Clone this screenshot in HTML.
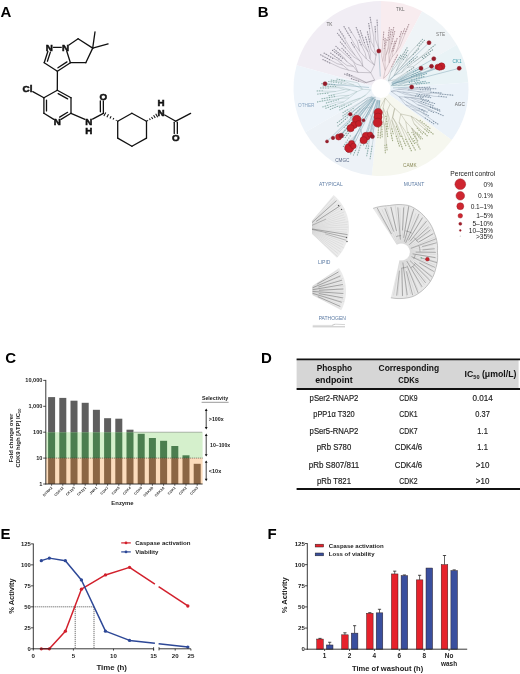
<!DOCTYPE html>
<html><head><meta charset="utf-8"><style>
html,body{margin:0;padding:0;background:#fff;}
body{width:520px;height:674px;overflow:hidden;}
svg{display:block;font-family:"Liberation Sans",Arial,sans-serif;}
</style></head><body>
<svg width="520" height="674" viewBox="0 0 520 674">
<rect width="520" height="674" fill="#fff"/>
<text x="0.4" y="17" font-size="15" text-anchor="start" font-weight="bold" fill="#000" >A</text>
<text x="257.7" y="16.7" font-size="15" text-anchor="start" font-weight="bold" fill="#000" >B</text>
<text x="5.2" y="363" font-size="15" text-anchor="start" font-weight="bold" fill="#000" >C</text>
<text x="261" y="363.3" font-size="15" text-anchor="start" font-weight="bold" fill="#000" >D</text>
<text x="0.4" y="539.4" font-size="15" text-anchor="start" font-weight="bold" fill="#000" >E</text>
<text x="267.4" y="538.6" font-size="15" text-anchor="start" font-weight="bold" fill="#000" >F</text>
<line x1="53.4" y1="47.3" x2="61.3" y2="47.3" stroke="#111" stroke-width="1.3" stroke-linecap="round"/>
<line x1="66.77" y1="51.3" x2="70.4" y2="62.7" stroke="#111" stroke-width="1.3" stroke-linecap="round"/>
<line x1="70.4" y1="62.7" x2="57.4" y2="71.3" stroke="#111" stroke-width="1.3" stroke-linecap="round"/>
<line x1="57.4" y1="71.3" x2="44.2" y2="62.7" stroke="#111" stroke-width="1.3" stroke-linecap="round"/>
<line x1="44.2" y1="62.7" x2="47.9" y2="51.29" stroke="#111" stroke-width="1.3" stroke-linecap="round"/>
<line x1="47.41" y1="61.22" x2="50.38" y2="52.1" stroke="#111" stroke-width="1.3" stroke-linecap="round"/>
<line x1="66.96" y1="61.86" x2="57.97" y2="67.81" stroke="#111" stroke-width="1.3" stroke-linecap="round"/>
<line x1="68.98" y1="44.95" x2="78.1" y2="38.8" stroke="#111" stroke-width="1.3" stroke-linecap="round"/>
<line x1="78.1" y1="38.8" x2="92.7" y2="48.1" stroke="#111" stroke-width="1.3" stroke-linecap="round"/>
<line x1="92.7" y1="48.1" x2="85.8" y2="62.7" stroke="#111" stroke-width="1.3" stroke-linecap="round"/>
<line x1="85.8" y1="62.7" x2="70.4" y2="62.7" stroke="#111" stroke-width="1.3" stroke-linecap="round"/>
<line x1="92.7" y1="48.1" x2="95" y2="31.9" stroke="#111" stroke-width="1.3" stroke-linecap="round"/>
<line x1="92.7" y1="48.1" x2="108.1" y2="43.8" stroke="#111" stroke-width="1.3" stroke-linecap="round"/>
<line x1="57.4" y1="71.3" x2="57.3" y2="90.2" stroke="#111" stroke-width="1.3" stroke-linecap="round"/>
<line x1="57.3" y1="90.2" x2="43.9" y2="97.7" stroke="#111" stroke-width="1.3" stroke-linecap="round"/>
<line x1="43.9" y1="97.7" x2="43.9" y2="113.3" stroke="#111" stroke-width="1.3" stroke-linecap="round"/>
<line x1="43.9" y1="113.3" x2="53.81" y2="119.32" stroke="#111" stroke-width="1.3" stroke-linecap="round"/>
<line x1="61" y1="119.33" x2="71" y2="113.3" stroke="#111" stroke-width="1.3" stroke-linecap="round"/>
<line x1="71" y1="113.3" x2="71" y2="97.7" stroke="#111" stroke-width="1.3" stroke-linecap="round"/>
<line x1="71" y1="97.7" x2="57.3" y2="90.2" stroke="#111" stroke-width="1.3" stroke-linecap="round"/>
<line x1="58.16" y1="93.63" x2="67.65" y2="98.83" stroke="#111" stroke-width="1.3" stroke-linecap="round"/>
<line x1="46.5" y1="100.1" x2="46.5" y2="110.9" stroke="#111" stroke-width="1.3" stroke-linecap="round"/>
<line x1="59.65" y1="117.1" x2="67.6" y2="112.31" stroke="#111" stroke-width="1.3" stroke-linecap="round"/>
<line x1="43.9" y1="97.7" x2="32.77" y2="91.66" stroke="#111" stroke-width="1.3" stroke-linecap="round"/>
<line x1="71" y1="113.3" x2="84.95" y2="119.33" stroke="#111" stroke-width="1.3" stroke-linecap="round"/>
<line x1="92.53" y1="119.06" x2="103.4" y2="113.4" stroke="#111" stroke-width="1.3" stroke-linecap="round"/>
<line x1="103.4" y1="113.4" x2="103.33" y2="100.8" stroke="#111" stroke-width="1.3" stroke-linecap="round"/>
<line x1="100.39" y1="111.82" x2="100.33" y2="100.82" stroke="#111" stroke-width="1.3" stroke-linecap="round"/>
<line x1="116.04" y1="120.85" x2="116.5" y2="119.99" stroke="#111" stroke-width="1.05" />
<line x1="112.99" y1="119.62" x2="113.83" y2="118.1" stroke="#111" stroke-width="1.05" />
<line x1="109.95" y1="118.4" x2="111.15" y2="116.2" stroke="#111" stroke-width="1.05" />
<line x1="106.91" y1="117.17" x2="108.47" y2="114.31" stroke="#111" stroke-width="1.05" />
<line x1="103.87" y1="115.94" x2="105.79" y2="112.42" stroke="#111" stroke-width="1.05" />
<line x1="117.7" y1="121.2" x2="131.9" y2="113.2" stroke="#111" stroke-width="1.3" stroke-linecap="round"/>
<line x1="131.9" y1="113.2" x2="146.5" y2="121.2" stroke="#111" stroke-width="1.3" stroke-linecap="round"/>
<line x1="146.5" y1="121.2" x2="146.5" y2="138.1" stroke="#111" stroke-width="1.3" stroke-linecap="round"/>
<line x1="146.5" y1="138.1" x2="131.9" y2="146.3" stroke="#111" stroke-width="1.3" stroke-linecap="round"/>
<line x1="131.9" y1="146.3" x2="117.7" y2="138.1" stroke="#111" stroke-width="1.3" stroke-linecap="round"/>
<line x1="117.7" y1="138.1" x2="117.7" y2="121.2" stroke="#111" stroke-width="1.3" stroke-linecap="round"/>
<line x1="147.39" y1="120.13" x2="147.87" y2="120.98" stroke="#111" stroke-width="1.05" />
<line x1="149.46" y1="118.51" x2="150.32" y2="120.03" stroke="#111" stroke-width="1.05" />
<line x1="151.54" y1="116.9" x2="152.77" y2="119.07" stroke="#111" stroke-width="1.05" />
<line x1="153.61" y1="115.28" x2="155.23" y2="118.11" stroke="#111" stroke-width="1.05" />
<line x1="155.69" y1="113.66" x2="157.68" y2="117.16" stroke="#111" stroke-width="1.05" />
<line x1="164.76" y1="114.97" x2="175.8" y2="121.2" stroke="#111" stroke-width="1.3" stroke-linecap="round"/>
<line x1="175.8" y1="121.2" x2="190.6" y2="113.4" stroke="#111" stroke-width="1.3" stroke-linecap="round"/>
<line x1="174.25" y1="122.2" x2="174.25" y2="133.5" stroke="#111" stroke-width="1.3" stroke-linecap="round"/>
<line x1="177.35" y1="122.2" x2="177.35" y2="133.5" stroke="#111" stroke-width="1.3" stroke-linecap="round"/>
<text x="49.2" y="50.85" font-size="9.8" text-anchor="middle" font-weight="bold" fill="#111" stroke="#111" stroke-width="0.55">N</text>
<text x="65.5" y="50.85" font-size="9.8" text-anchor="middle" font-weight="bold" fill="#111" stroke="#111" stroke-width="0.55">N</text>
<text x="57.4" y="125.05" font-size="9.8" text-anchor="middle" font-weight="bold" fill="#111" stroke="#111" stroke-width="0.55">N</text>
<text x="88.8" y="124.55" font-size="9.8" text-anchor="middle" font-weight="bold" fill="#111" stroke="#111" stroke-width="0.55">N</text>
<text x="161.1" y="116.45" font-size="9.8" text-anchor="middle" font-weight="bold" fill="#111" stroke="#111" stroke-width="0.55">N</text>
<text x="88.8" y="133.5" font-size="9.8" text-anchor="middle" font-weight="bold" fill="#111" stroke="#111" stroke-width="0.55">H</text>
<text x="161.1" y="106.3" font-size="9.8" text-anchor="middle" font-weight="bold" fill="#111" stroke="#111" stroke-width="0.55">H</text>
<text x="103.3" y="99.95" font-size="9.8" text-anchor="middle" font-weight="bold" fill="#111" stroke="#111" stroke-width="0.55">O</text>
<text x="175.8" y="141.45" font-size="9.8" text-anchor="middle" font-weight="bold" fill="#111" stroke="#111" stroke-width="0.55">O</text>
<text x="27.5" y="92.35" font-size="9.8" text-anchor="middle" font-weight="bold" fill="#111" stroke="#111" stroke-width="0.55">Cl</text>
<path d="M381,88.5 L296.64,65.26 A87.5,87.5 0 0 1 381,1 Z" fill="#f1edf4"/>
<path d="M381,88.5 L381,1 A87.5,87.5 0 0 1 422.08,11.24 Z" fill="#f8ecef"/>
<path d="M381,88.5 L422.08,11.24 A87.5,87.5 0 0 1 456.78,44.75 Z" fill="#eff4f7"/>
<path d="M381,88.5 L456.78,44.75 A87.5,87.5 0 0 1 468.29,82.4 Z" fill="#e9f3f6"/>
<path d="M381,88.5 L468.29,82.4 A87.5,87.5 0 0 1 451.79,139.93 Z" fill="#ebf2f9"/>
<path d="M381,88.5 L451.79,139.93 A87.5,87.5 0 0 1 371.85,175.52 Z" fill="#f6f7ef"/>
<path d="M381,88.5 L371.85,175.52 A87.5,87.5 0 0 1 305.22,132.25 Z" fill="#edf2f7"/>
<path d="M381,88.5 L305.22,132.25 A87.5,87.5 0 0 1 296.64,65.26 Z" fill="#eef4fa"/>
<line x1="374.64" y1="80.15" x2="364.3" y2="82.89" stroke="#8a8590" stroke-width="0.4" />
<line x1="364.3" y1="82.89" x2="351.4" y2="78.7" stroke="#8a8590" stroke-width="0.38" />
<line x1="374.64" y1="80.15" x2="366.53" y2="82.74" stroke="#8a8590" stroke-width="0.4" />
<line x1="366.53" y1="82.74" x2="361.47" y2="80.52" stroke="#8a8590" stroke-width="0.4" />
<line x1="361.47" y1="80.52" x2="344.67" y2="74.11" stroke="#8a8590" stroke-width="0.38" />
<line x1="366.53" y1="82.74" x2="358.82" y2="78.71" stroke="#8a8590" stroke-width="0.4" />
<line x1="358.82" y1="78.71" x2="347.16" y2="73.71" stroke="#8a8590" stroke-width="0.38" />
<line x1="374.64" y1="80.15" x2="370.79" y2="72.72" stroke="#8a8590" stroke-width="0.4" />
<line x1="370.79" y1="72.72" x2="357.99" y2="72.39" stroke="#8a8590" stroke-width="0.4" />
<line x1="357.99" y1="72.39" x2="348.66" y2="70.19" stroke="#8a8590" stroke-width="0.4" />
<line x1="348.66" y1="70.19" x2="340.87" y2="67.88" stroke="#8a8590" stroke-width="0.4" />
<line x1="340.87" y1="67.88" x2="322.98" y2="59.6" stroke="#8a8590" stroke-width="0.38" />
<line x1="348.66" y1="70.19" x2="342.8" y2="65.03" stroke="#8a8590" stroke-width="0.4" />
<line x1="342.8" y1="65.03" x2="337.29" y2="63.73" stroke="#8a8590" stroke-width="0.4" />
<line x1="337.29" y1="63.73" x2="320.72" y2="54.81" stroke="#8a8590" stroke-width="0.38" />
<line x1="342.8" y1="65.03" x2="337.83" y2="60.45" stroke="#8a8590" stroke-width="0.4" />
<line x1="337.83" y1="60.45" x2="324.16" y2="53.13" stroke="#8a8590" stroke-width="0.38" />
<line x1="357.99" y1="72.39" x2="353.42" y2="66.37" stroke="#8a8590" stroke-width="0.4" />
<line x1="353.42" y1="66.37" x2="347.12" y2="65.58" stroke="#8a8590" stroke-width="0.4" />
<line x1="347.12" y1="65.58" x2="330.8" y2="53.17" stroke="#8a8590" stroke-width="0.38" />
<line x1="353.42" y1="66.37" x2="347.11" y2="61.88" stroke="#8a8590" stroke-width="0.4" />
<line x1="347.11" y1="61.88" x2="342.92" y2="57.78" stroke="#8a8590" stroke-width="0.4" />
<line x1="342.92" y1="57.78" x2="332.54" y2="50.47" stroke="#8a8590" stroke-width="0.38" />
<line x1="347.11" y1="61.88" x2="343.53" y2="57.07" stroke="#8a8590" stroke-width="0.4" />
<line x1="343.53" y1="57.07" x2="334.21" y2="49.27" stroke="#8a8590" stroke-width="0.38" />
<line x1="357.99" y1="72.39" x2="353.77" y2="62.23" stroke="#8a8590" stroke-width="0.4" />
<line x1="353.77" y1="62.23" x2="335.96" y2="46.34" stroke="#8a8590" stroke-width="0.38" />
<line x1="370.79" y1="72.72" x2="362.91" y2="66.27" stroke="#8a8590" stroke-width="0.4" />
<line x1="362.91" y1="66.27" x2="356.02" y2="64.01" stroke="#8a8590" stroke-width="0.4" />
<line x1="356.02" y1="64.01" x2="341.98" y2="48.27" stroke="#8a8590" stroke-width="0.38" />
<line x1="362.91" y1="66.27" x2="359.93" y2="60.87" stroke="#8a8590" stroke-width="0.4" />
<line x1="359.93" y1="60.87" x2="352.65" y2="56.19" stroke="#8a8590" stroke-width="0.4" />
<line x1="352.65" y1="56.19" x2="340.37" y2="42.09" stroke="#8a8590" stroke-width="0.38" />
<line x1="359.93" y1="60.87" x2="355.21" y2="55.54" stroke="#8a8590" stroke-width="0.4" />
<line x1="355.21" y1="55.54" x2="350.54" y2="50.68" stroke="#8a8590" stroke-width="0.4" />
<line x1="350.54" y1="50.68" x2="337.5" y2="33.24" stroke="#8a8590" stroke-width="0.38" />
<line x1="355.21" y1="55.54" x2="349.76" y2="47.36" stroke="#8a8590" stroke-width="0.4" />
<line x1="349.76" y1="47.36" x2="339.24" y2="29.84" stroke="#8a8590" stroke-width="0.38" />
<line x1="362.91" y1="66.27" x2="361.65" y2="59.15" stroke="#8a8590" stroke-width="0.4" />
<line x1="361.65" y1="59.15" x2="351.54" y2="42.68" stroke="#8a8590" stroke-width="0.38" />
<line x1="370.79" y1="72.72" x2="374.43" y2="65.07" stroke="#8a8590" stroke-width="0.4" />
<line x1="374.43" y1="65.07" x2="366.41" y2="58.93" stroke="#8a8590" stroke-width="0.4" />
<line x1="366.41" y1="58.93" x2="359.77" y2="51.42" stroke="#8a8590" stroke-width="0.4" />
<line x1="359.77" y1="51.42" x2="354.72" y2="44.59" stroke="#8a8590" stroke-width="0.4" />
<line x1="354.72" y1="44.59" x2="344.05" y2="26.71" stroke="#8a8590" stroke-width="0.38" />
<line x1="359.77" y1="51.42" x2="357.28" y2="41.47" stroke="#8a8590" stroke-width="0.4" />
<line x1="357.28" y1="41.47" x2="348.8" y2="27.78" stroke="#8a8590" stroke-width="0.38" />
<line x1="366.41" y1="58.93" x2="365.23" y2="53.17" stroke="#8a8590" stroke-width="0.4" />
<line x1="365.23" y1="53.17" x2="359" y2="40.14" stroke="#8a8590" stroke-width="0.38" />
<line x1="374.43" y1="65.07" x2="370" y2="58.9" stroke="#8a8590" stroke-width="0.4" />
<line x1="370" y1="58.9" x2="368.14" y2="52.02" stroke="#8a8590" stroke-width="0.4" />
<line x1="368.14" y1="52.02" x2="363.18" y2="44.87" stroke="#8a8590" stroke-width="0.4" />
<line x1="363.18" y1="44.87" x2="356.24" y2="27.54" stroke="#8a8590" stroke-width="0.38" />
<line x1="368.14" y1="52.02" x2="364.28" y2="42.82" stroke="#8a8590" stroke-width="0.4" />
<line x1="364.28" y1="42.82" x2="360.28" y2="30.71" stroke="#8a8590" stroke-width="0.38" />
<line x1="370" y1="58.9" x2="370.27" y2="53.44" stroke="#8a8590" stroke-width="0.4" />
<line x1="370.27" y1="53.44" x2="365.6" y2="37.15" stroke="#8a8590" stroke-width="0.38" />
<line x1="374.43" y1="65.07" x2="375.98" y2="55.52" stroke="#8a8590" stroke-width="0.4" />
<line x1="375.98" y1="55.52" x2="371.06" y2="49.29" stroke="#8a8590" stroke-width="0.4" />
<line x1="371.06" y1="49.29" x2="367.4" y2="31.92" stroke="#8a8590" stroke-width="0.38" />
<line x1="375.98" y1="55.52" x2="373.99" y2="47.28" stroke="#8a8590" stroke-width="0.4" />
<line x1="373.99" y1="47.28" x2="371" y2="41.42" stroke="#8a8590" stroke-width="0.4" />
<line x1="371" y1="41.42" x2="368.7" y2="23.49" stroke="#8a8590" stroke-width="0.38" />
<line x1="373.99" y1="47.28" x2="373.78" y2="37.25" stroke="#8a8590" stroke-width="0.4" />
<line x1="373.78" y1="37.25" x2="370.17" y2="17.32" stroke="#8a8590" stroke-width="0.38" />
<line x1="375.98" y1="55.52" x2="378.8" y2="48.91" stroke="#8a8590" stroke-width="0.4" />
<line x1="378.8" y1="48.91" x2="375.49" y2="39.24" stroke="#8a8590" stroke-width="0.4" />
<line x1="375.49" y1="39.24" x2="375.08" y2="26.71" stroke="#8a8590" stroke-width="0.38" />
<line x1="378.8" y1="48.91" x2="378.12" y2="42.13" stroke="#8a8590" stroke-width="0.4" />
<line x1="378.12" y1="42.13" x2="377.05" y2="20.1" stroke="#8a8590" stroke-width="0.38" />
<g fill="#8a8794"><circle cx="351.4" cy="78.7" r="0.6"/><circle cx="353.77" cy="79.49" r="0.6"/><circle cx="356.14" cy="80.27" r="0.6"/><circle cx="358.52" cy="81.06" r="0.6"/><circle cx="344.67" cy="74.11" r="0.6"/><circle cx="346.99" cy="75.03" r="0.6"/><circle cx="349.32" cy="75.95" r="0.6"/><circle cx="347.16" cy="73.71" r="0.6"/><circle cx="349.45" cy="74.71" r="0.6"/><circle cx="351.74" cy="75.71" r="0.6"/><circle cx="322.98" cy="59.6" r="0.6"/><circle cx="325.21" cy="60.72" r="0.6"/><circle cx="327.45" cy="61.83" r="0.6"/><circle cx="329.69" cy="62.94" r="0.6"/><circle cx="320.72" cy="54.81" r="0.6"/><circle cx="322.9" cy="56.03" r="0.6"/><circle cx="325.08" cy="57.25" r="0.6"/><circle cx="327.27" cy="58.47" r="0.6"/><circle cx="329.45" cy="59.68" r="0.6"/><circle cx="324.16" cy="53.13" r="0.6"/><circle cx="326.28" cy="54.45" r="0.6"/><circle cx="328.4" cy="55.78" r="0.6"/><circle cx="330.53" cy="57.1" r="0.6"/><circle cx="332.65" cy="58.42" r="0.6"/><circle cx="330.8" cy="53.17" r="0.6"/><circle cx="332.85" cy="54.61" r="0.6"/><circle cx="334.89" cy="56.05" r="0.6"/><circle cx="336.94" cy="57.48" r="0.6"/><circle cx="338.98" cy="58.92" r="0.6"/><circle cx="341.02" cy="60.36" r="0.6"/><circle cx="332.54" cy="50.47" r="0.6"/><circle cx="334.51" cy="52.01" r="0.6"/><circle cx="336.48" cy="53.56" r="0.6"/><circle cx="338.44" cy="55.1" r="0.6"/><circle cx="340.41" cy="56.64" r="0.6"/><circle cx="342.38" cy="58.19" r="0.6"/><circle cx="334.21" cy="49.27" r="0.6"/><circle cx="336.13" cy="50.88" r="0.6"/><circle cx="338.04" cy="52.48" r="0.6"/><circle cx="339.96" cy="54.09" r="0.6"/><circle cx="335.96" cy="46.34" r="0.6"/><circle cx="337.79" cy="48.05" r="0.6"/><circle cx="339.61" cy="49.76" r="0.6"/><circle cx="341.98" cy="48.27" r="0.6"/><circle cx="343.72" cy="50.07" r="0.6"/><circle cx="345.46" cy="51.86" r="0.6"/><circle cx="347.2" cy="53.66" r="0.6"/><circle cx="348.94" cy="55.45" r="0.6"/><circle cx="350.68" cy="57.25" r="0.6"/><circle cx="340.37" cy="42.09" r="0.6"/><circle cx="342.01" cy="43.97" r="0.6"/><circle cx="343.66" cy="45.85" r="0.6"/><circle cx="345.31" cy="47.73" r="0.6"/><circle cx="337.5" cy="33.24" r="0.6"/><circle cx="339.05" cy="35.2" r="0.6"/><circle cx="340.59" cy="37.17" r="0.6"/><circle cx="342.14" cy="39.13" r="0.6"/><circle cx="343.69" cy="41.09" r="0.6"/><circle cx="345.23" cy="43.06" r="0.6"/><circle cx="339.24" cy="29.84" r="0.6"/><circle cx="340.69" cy="31.88" r="0.6"/><circle cx="342.14" cy="33.92" r="0.6"/><circle cx="343.59" cy="35.95" r="0.6"/><circle cx="345.04" cy="37.99" r="0.6"/><circle cx="351.54" cy="42.68" r="0.6"/><circle cx="352.89" cy="44.78" r="0.6"/><circle cx="354.25" cy="46.88" r="0.6"/><circle cx="344.05" cy="26.71" r="0.6"/><circle cx="345.33" cy="28.85" r="0.6"/><circle cx="346.61" cy="31" r="0.6"/><circle cx="347.9" cy="33.14" r="0.6"/><circle cx="349.18" cy="35.29" r="0.6"/><circle cx="350.46" cy="37.43" r="0.6"/><circle cx="348.8" cy="27.78" r="0.6"/><circle cx="349.97" cy="29.98" r="0.6"/><circle cx="351.14" cy="32.19" r="0.6"/><circle cx="359" cy="40.14" r="0.6"/><circle cx="360.03" cy="42.42" r="0.6"/><circle cx="361.07" cy="44.69" r="0.6"/><circle cx="356.24" cy="27.54" r="0.6"/><circle cx="357.18" cy="29.86" r="0.6"/><circle cx="358.12" cy="32.18" r="0.6"/><circle cx="359.06" cy="34.49" r="0.6"/><circle cx="360" cy="36.81" r="0.6"/><circle cx="360.28" cy="30.71" r="0.6"/><circle cx="361.12" cy="33.06" r="0.6"/><circle cx="361.96" cy="35.42" r="0.6"/><circle cx="362.81" cy="37.77" r="0.6"/><circle cx="363.65" cy="40.12" r="0.6"/><circle cx="364.5" cy="42.48" r="0.6"/><circle cx="365.6" cy="37.15" r="0.6"/><circle cx="366.31" cy="39.55" r="0.6"/><circle cx="367.03" cy="41.94" r="0.6"/><circle cx="367.75" cy="44.33" r="0.6"/><circle cx="368.47" cy="46.73" r="0.6"/><circle cx="367.4" cy="31.92" r="0.6"/><circle cx="367.99" cy="34.36" r="0.6"/><circle cx="368.57" cy="36.79" r="0.6"/><circle cx="369.16" cy="39.22" r="0.6"/><circle cx="369.74" cy="41.65" r="0.6"/><circle cx="368.7" cy="23.49" r="0.6"/><circle cx="369.16" cy="25.95" r="0.6"/><circle cx="369.63" cy="28.41" r="0.6"/><circle cx="370.17" cy="17.32" r="0.6"/><circle cx="370.55" cy="19.79" r="0.6"/><circle cx="370.92" cy="22.26" r="0.6"/><circle cx="375.08" cy="26.71" r="0.6"/><circle cx="375.32" cy="29.19" r="0.6"/><circle cx="375.56" cy="31.68" r="0.6"/><circle cx="377.05" cy="20.1" r="0.6"/><circle cx="377.2" cy="22.6" r="0.6"/><circle cx="377.34" cy="25.09" r="0.6"/></g>
<line x1="383.54" y1="78.31" x2="385.19" y2="70.43" stroke="#a89298" stroke-width="0.4" />
<line x1="385.19" y1="70.43" x2="382.79" y2="61.52" stroke="#a89298" stroke-width="0.4" />
<line x1="382.79" y1="61.52" x2="381.62" y2="55.87" stroke="#a89298" stroke-width="0.4" />
<line x1="381.62" y1="55.87" x2="383.72" y2="32.1" stroke="#a89298" stroke-width="0.38" />
<line x1="382.79" y1="61.52" x2="383.69" y2="55.88" stroke="#a89298" stroke-width="0.4" />
<line x1="383.69" y1="55.88" x2="385.09" y2="38.31" stroke="#a89298" stroke-width="0.38" />
<line x1="385.19" y1="70.43" x2="385.02" y2="61.39" stroke="#a89298" stroke-width="0.4" />
<line x1="385.02" y1="61.39" x2="385.07" y2="53.37" stroke="#a89298" stroke-width="0.4" />
<line x1="385.07" y1="53.37" x2="386.2" y2="39.8" stroke="#a89298" stroke-width="0.38" />
<line x1="385.02" y1="61.39" x2="385.76" y2="55.36" stroke="#a89298" stroke-width="0.4" />
<line x1="385.76" y1="55.36" x2="388.13" y2="46.84" stroke="#a89298" stroke-width="0.4" />
<line x1="388.13" y1="46.84" x2="389.42" y2="27.77" stroke="#a89298" stroke-width="0.38" />
<line x1="385.76" y1="55.36" x2="388.6" y2="48.07" stroke="#a89298" stroke-width="0.4" />
<line x1="388.6" y1="48.07" x2="391.21" y2="29.51" stroke="#a89298" stroke-width="0.38" />
<line x1="385.19" y1="70.43" x2="389.17" y2="62.92" stroke="#a89298" stroke-width="0.4" />
<line x1="389.17" y1="62.92" x2="388.84" y2="53.65" stroke="#a89298" stroke-width="0.4" />
<line x1="388.84" y1="53.65" x2="389.87" y2="46.96" stroke="#a89298" stroke-width="0.4" />
<line x1="389.87" y1="46.96" x2="393.66" y2="27.52" stroke="#a89298" stroke-width="0.38" />
<line x1="388.84" y1="53.65" x2="390.71" y2="46.86" stroke="#a89298" stroke-width="0.4" />
<line x1="390.71" y1="46.86" x2="394.64" y2="31.57" stroke="#a89298" stroke-width="0.38" />
<line x1="389.17" y1="62.92" x2="389.91" y2="57.09" stroke="#a89298" stroke-width="0.4" />
<line x1="389.91" y1="57.09" x2="394.88" y2="41.45" stroke="#a89298" stroke-width="0.38" />
<line x1="389.17" y1="62.92" x2="392.04" y2="57.05" stroke="#a89298" stroke-width="0.4" />
<line x1="392.04" y1="57.05" x2="393.11" y2="50.2" stroke="#a89298" stroke-width="0.4" />
<line x1="393.11" y1="50.2" x2="397.05" y2="38.65" stroke="#a89298" stroke-width="0.38" />
<line x1="392.04" y1="57.05" x2="396.1" y2="52.28" stroke="#a89298" stroke-width="0.4" />
<line x1="396.1" y1="52.28" x2="398.95" y2="44.47" stroke="#a89298" stroke-width="0.4" />
<line x1="398.95" y1="44.47" x2="401.31" y2="31.72" stroke="#a89298" stroke-width="0.38" />
<line x1="398.95" y1="44.47" x2="404.57" y2="28.85" stroke="#a89298" stroke-width="0.38" />
<line x1="396.1" y1="52.28" x2="400.09" y2="46.27" stroke="#a89298" stroke-width="0.4" />
<line x1="400.09" y1="46.27" x2="408.71" y2="24.58" stroke="#a89298" stroke-width="0.38" />
<line x1="383.54" y1="78.31" x2="388.16" y2="73.95" stroke="#a89298" stroke-width="0.4" />
<line x1="388.16" y1="73.95" x2="397.39" y2="55.07" stroke="#a89298" stroke-width="0.38" />
<g fill="#a88c94"><circle cx="383.72" cy="32.1" r="0.6"/><circle cx="383.6" cy="34.6" r="0.6"/><circle cx="383.47" cy="37.09" r="0.6"/><circle cx="383.35" cy="39.59" r="0.6"/><circle cx="385.09" cy="38.31" r="0.6"/><circle cx="384.89" cy="40.8" r="0.6"/><circle cx="384.69" cy="43.29" r="0.6"/><circle cx="384.48" cy="45.78" r="0.6"/><circle cx="384.28" cy="48.28" r="0.6"/><circle cx="386.2" cy="39.8" r="0.6"/><circle cx="385.94" cy="42.29" r="0.6"/><circle cx="385.67" cy="44.78" r="0.6"/><circle cx="389.42" cy="27.77" r="0.6"/><circle cx="389.08" cy="30.25" r="0.6"/><circle cx="388.74" cy="32.72" r="0.6"/><circle cx="388.39" cy="35.2" r="0.6"/><circle cx="388.05" cy="37.68" r="0.6"/><circle cx="387.71" cy="40.15" r="0.6"/><circle cx="391.21" cy="29.51" r="0.6"/><circle cx="390.78" cy="31.97" r="0.6"/><circle cx="390.36" cy="34.44" r="0.6"/><circle cx="389.93" cy="36.9" r="0.6"/><circle cx="389.5" cy="39.36" r="0.6"/><circle cx="393.66" cy="27.52" r="0.6"/><circle cx="393.15" cy="29.96" r="0.6"/><circle cx="392.65" cy="32.41" r="0.6"/><circle cx="392.14" cy="34.86" r="0.6"/><circle cx="394.64" cy="31.57" r="0.6"/><circle cx="394.06" cy="34" r="0.6"/><circle cx="393.47" cy="36.43" r="0.6"/><circle cx="392.89" cy="38.86" r="0.6"/><circle cx="392.31" cy="41.29" r="0.6"/><circle cx="391.73" cy="43.72" r="0.6"/><circle cx="394.88" cy="41.45" r="0.6"/><circle cx="394.18" cy="43.85" r="0.6"/><circle cx="393.47" cy="46.25" r="0.6"/><circle cx="392.76" cy="48.65" r="0.6"/><circle cx="392.05" cy="51.04" r="0.6"/><circle cx="397.05" cy="38.65" r="0.6"/><circle cx="396.28" cy="41.03" r="0.6"/><circle cx="395.51" cy="43.41" r="0.6"/><circle cx="394.75" cy="45.79" r="0.6"/><circle cx="393.98" cy="48.17" r="0.6"/><circle cx="393.22" cy="50.55" r="0.6"/><circle cx="401.31" cy="31.72" r="0.6"/><circle cx="400.47" cy="34.08" r="0.6"/><circle cx="399.63" cy="36.43" r="0.6"/><circle cx="404.57" cy="28.85" r="0.6"/><circle cx="403.65" cy="31.18" r="0.6"/><circle cx="402.73" cy="33.5" r="0.6"/><circle cx="408.71" cy="24.58" r="0.6"/><circle cx="407.71" cy="26.88" r="0.6"/><circle cx="406.72" cy="29.17" r="0.6"/><circle cx="405.72" cy="31.46" r="0.6"/><circle cx="404.73" cy="33.76" r="0.6"/><circle cx="397.39" cy="55.07" r="0.6"/><circle cx="396.29" cy="57.31" r="0.6"/><circle cx="395.19" cy="59.56" r="0.6"/><circle cx="394.09" cy="61.8" r="0.6"/><circle cx="392.99" cy="64.05" r="0.6"/><circle cx="391.89" cy="66.29" r="0.6"/></g>
<line x1="388.29" y1="80.95" x2="390.89" y2="72.36" stroke="#8a9c9e" stroke-width="0.4" />
<line x1="390.89" y1="72.36" x2="392.82" y2="67.59" stroke="#8a9c9e" stroke-width="0.4" />
<line x1="392.82" y1="67.59" x2="400.63" y2="55.35" stroke="#8a9c9e" stroke-width="0.38" />
<line x1="390.89" y1="72.36" x2="396.53" y2="65.39" stroke="#8a9c9e" stroke-width="0.4" />
<line x1="396.53" y1="65.39" x2="407.03" y2="47.83" stroke="#8a9c9e" stroke-width="0.38" />
<line x1="388.29" y1="80.95" x2="393.91" y2="75.63" stroke="#8a9c9e" stroke-width="0.4" />
<line x1="393.91" y1="75.63" x2="396.29" y2="70.86" stroke="#8a9c9e" stroke-width="0.4" />
<line x1="396.29" y1="70.86" x2="400.28" y2="61.62" stroke="#8a9c9e" stroke-width="0.4" />
<line x1="400.28" y1="61.62" x2="407.81" y2="50.6" stroke="#8a9c9e" stroke-width="0.38" />
<line x1="396.29" y1="70.86" x2="399.07" y2="65.95" stroke="#8a9c9e" stroke-width="0.4" />
<line x1="399.07" y1="65.95" x2="406.59" y2="55.39" stroke="#8a9c9e" stroke-width="0.38" />
<line x1="396.29" y1="70.86" x2="400.5" y2="67.7" stroke="#8a9c9e" stroke-width="0.4" />
<line x1="400.5" y1="67.7" x2="405.55" y2="61.26" stroke="#8a9c9e" stroke-width="0.4" />
<line x1="405.55" y1="61.26" x2="408.94" y2="53.82" stroke="#8a9c9e" stroke-width="0.4" />
<line x1="408.94" y1="53.82" x2="422.44" y2="39.34" stroke="#8a9c9e" stroke-width="0.38" />
<line x1="405.55" y1="61.26" x2="411.69" y2="55.63" stroke="#8a9c9e" stroke-width="0.4" />
<line x1="411.69" y1="55.63" x2="424.38" y2="40.29" stroke="#8a9c9e" stroke-width="0.38" />
<line x1="400.5" y1="67.7" x2="404.61" y2="63.21" stroke="#8a9c9e" stroke-width="0.4" />
<line x1="404.61" y1="63.21" x2="418.53" y2="48.91" stroke="#8a9c9e" stroke-width="0.38" />
<line x1="393.91" y1="75.63" x2="400.88" y2="68.97" stroke="#8a9c9e" stroke-width="0.4" />
<line x1="400.88" y1="68.97" x2="413.2" y2="57.79" stroke="#8a9c9e" stroke-width="0.38" />
<line x1="393.91" y1="75.63" x2="401.56" y2="72.44" stroke="#8a9c9e" stroke-width="0.4" />
<line x1="401.56" y1="72.44" x2="404.94" y2="67.59" stroke="#8a9c9e" stroke-width="0.4" />
<line x1="404.94" y1="67.59" x2="417.15" y2="56.87" stroke="#8a9c9e" stroke-width="0.38" />
<line x1="401.56" y1="72.44" x2="407.26" y2="67.58" stroke="#8a9c9e" stroke-width="0.4" />
<line x1="407.26" y1="67.58" x2="413.71" y2="62.28" stroke="#8a9c9e" stroke-width="0.4" />
<line x1="413.71" y1="62.28" x2="418.64" y2="58.77" stroke="#8a9c9e" stroke-width="0.4" />
<line x1="418.64" y1="58.77" x2="435.07" y2="44.81" stroke="#8a9c9e" stroke-width="0.38" />
<line x1="413.71" y1="62.28" x2="421.15" y2="57.01" stroke="#8a9c9e" stroke-width="0.4" />
<line x1="421.15" y1="57.01" x2="432.48" y2="49.88" stroke="#8a9c9e" stroke-width="0.38" />
<line x1="407.26" y1="67.58" x2="413.76" y2="66.33" stroke="#8a9c9e" stroke-width="0.4" />
<line x1="413.76" y1="66.33" x2="429.74" y2="54.06" stroke="#8a9c9e" stroke-width="0.38" />
<line x1="388.29" y1="80.95" x2="395.34" y2="79.68" stroke="#8a9c9e" stroke-width="0.4" />
<line x1="395.34" y1="79.68" x2="413.65" y2="67.7" stroke="#8a9c9e" stroke-width="0.38" />
<g fill="#7e9e9e"><circle cx="400.63" cy="55.35" r="0.6"/><circle cx="399.36" cy="57.51" r="0.6"/><circle cx="398.09" cy="59.66" r="0.6"/><circle cx="396.81" cy="61.81" r="0.6"/><circle cx="407.03" cy="47.83" r="0.6"/><circle cx="405.69" cy="49.93" r="0.6"/><circle cx="404.34" cy="52.04" r="0.6"/><circle cx="402.99" cy="54.14" r="0.6"/><circle cx="401.64" cy="56.25" r="0.6"/><circle cx="400.29" cy="58.35" r="0.6"/><circle cx="407.81" cy="50.6" r="0.6"/><circle cx="406.37" cy="52.64" r="0.6"/><circle cx="404.92" cy="54.68" r="0.6"/><circle cx="403.48" cy="56.72" r="0.6"/><circle cx="402.04" cy="58.76" r="0.6"/><circle cx="406.59" cy="55.39" r="0.6"/><circle cx="405.06" cy="57.37" r="0.6"/><circle cx="403.53" cy="59.35" r="0.6"/><circle cx="422.44" cy="39.34" r="0.6"/><circle cx="420.83" cy="41.25" r="0.6"/><circle cx="419.22" cy="43.16" r="0.6"/><circle cx="417.6" cy="45.08" r="0.6"/><circle cx="424.38" cy="40.29" r="0.6"/><circle cx="422.71" cy="42.15" r="0.6"/><circle cx="421.04" cy="44.01" r="0.6"/><circle cx="419.36" cy="45.87" r="0.6"/><circle cx="418.53" cy="48.91" r="0.6"/><circle cx="416.81" cy="50.73" r="0.6"/><circle cx="415.09" cy="52.54" r="0.6"/><circle cx="413.37" cy="54.36" r="0.6"/><circle cx="413.2" cy="57.79" r="0.6"/><circle cx="411.39" cy="59.51" r="0.6"/><circle cx="409.58" cy="61.24" r="0.6"/><circle cx="417.15" cy="56.87" r="0.6"/><circle cx="415.27" cy="58.52" r="0.6"/><circle cx="413.39" cy="60.16" r="0.6"/><circle cx="411.51" cy="61.81" r="0.6"/><circle cx="409.62" cy="63.46" r="0.6"/><circle cx="407.74" cy="65.1" r="0.6"/><circle cx="435.07" cy="44.81" r="0.6"/><circle cx="433.12" cy="46.38" r="0.6"/><circle cx="431.18" cy="47.95" r="0.6"/><circle cx="429.23" cy="49.52" r="0.6"/><circle cx="432.48" cy="49.88" r="0.6"/><circle cx="430.48" cy="51.38" r="0.6"/><circle cx="428.48" cy="52.88" r="0.6"/><circle cx="426.48" cy="54.38" r="0.6"/><circle cx="424.48" cy="55.88" r="0.6"/><circle cx="422.48" cy="57.38" r="0.6"/><circle cx="429.74" cy="54.06" r="0.6"/><circle cx="427.7" cy="55.51" r="0.6"/><circle cx="425.66" cy="56.95" r="0.6"/><circle cx="423.62" cy="58.39" r="0.6"/><circle cx="413.65" cy="67.7" r="0.6"/><circle cx="411.54" cy="69.05" r="0.6"/><circle cx="409.43" cy="70.39" r="0.6"/><circle cx="407.32" cy="71.73" r="0.6"/></g>
<line x1="391.04" y1="85.43" x2="395.72" y2="82.7" stroke="#7ea0a6" stroke-width="0.4" />
<line x1="395.72" y1="82.7" x2="400.35" y2="79.55" stroke="#7ea0a6" stroke-width="0.4" />
<line x1="400.35" y1="79.55" x2="406.99" y2="74.61" stroke="#7ea0a6" stroke-width="0.4" />
<line x1="406.99" y1="74.61" x2="420.22" y2="68.39" stroke="#7ea0a6" stroke-width="0.38" />
<line x1="400.35" y1="79.55" x2="407.47" y2="76.33" stroke="#7ea0a6" stroke-width="0.4" />
<line x1="407.47" y1="76.33" x2="419.75" y2="71.56" stroke="#7ea0a6" stroke-width="0.38" />
<line x1="395.72" y1="82.7" x2="401.39" y2="81.41" stroke="#7ea0a6" stroke-width="0.4" />
<line x1="401.39" y1="81.41" x2="409.38" y2="77.66" stroke="#7ea0a6" stroke-width="0.4" />
<line x1="409.38" y1="77.66" x2="421.06" y2="72.82" stroke="#7ea0a6" stroke-width="0.38" />
<line x1="401.39" y1="81.41" x2="407.13" y2="79.56" stroke="#7ea0a6" stroke-width="0.4" />
<line x1="407.13" y1="79.56" x2="426.31" y2="73.61" stroke="#7ea0a6" stroke-width="0.38" />
<line x1="395.72" y1="82.7" x2="402.98" y2="81.87" stroke="#7ea0a6" stroke-width="0.4" />
<line x1="402.98" y1="81.87" x2="423.84" y2="76.55" stroke="#7ea0a6" stroke-width="0.38" />
<line x1="391.04" y1="85.43" x2="398.14" y2="85.57" stroke="#7ea0a6" stroke-width="0.4" />
<line x1="398.14" y1="85.57" x2="407.03" y2="82.17" stroke="#7ea0a6" stroke-width="0.4" />
<line x1="407.03" y1="82.17" x2="419.2" y2="80.27" stroke="#7ea0a6" stroke-width="0.38" />
<line x1="398.14" y1="85.57" x2="403.71" y2="85.39" stroke="#7ea0a6" stroke-width="0.4" />
<line x1="403.71" y1="85.39" x2="411.75" y2="83.92" stroke="#7ea0a6" stroke-width="0.4" />
<line x1="411.75" y1="83.92" x2="425.22" y2="81.26" stroke="#7ea0a6" stroke-width="0.38" />
<line x1="403.71" y1="85.39" x2="410" y2="84.4" stroke="#7ea0a6" stroke-width="0.4" />
<line x1="410" y1="84.4" x2="429.11" y2="82.69" stroke="#7ea0a6" stroke-width="0.38" />
<g fill="#6ea2aa"><circle cx="420.22" cy="68.39" r="0.6"/><circle cx="417.99" cy="69.53" r="0.6"/><circle cx="415.77" cy="70.67" r="0.6"/><circle cx="413.55" cy="71.81" r="0.6"/><circle cx="419.75" cy="71.56" r="0.6"/><circle cx="417.46" cy="72.56" r="0.6"/><circle cx="415.17" cy="73.56" r="0.6"/><circle cx="412.88" cy="74.56" r="0.6"/><circle cx="421.06" cy="72.82" r="0.6"/><circle cx="418.73" cy="73.73" r="0.6"/><circle cx="416.4" cy="74.64" r="0.6"/><circle cx="414.08" cy="75.55" r="0.6"/><circle cx="411.75" cy="76.46" r="0.6"/><circle cx="426.31" cy="73.61" r="0.6"/><circle cx="423.94" cy="74.39" r="0.6"/><circle cx="421.56" cy="75.17" r="0.6"/><circle cx="419.19" cy="75.95" r="0.6"/><circle cx="416.81" cy="76.73" r="0.6"/><circle cx="423.84" cy="76.55" r="0.6"/><circle cx="421.43" cy="77.22" r="0.6"/><circle cx="419.02" cy="77.89" r="0.6"/><circle cx="416.61" cy="78.57" r="0.6"/><circle cx="414.2" cy="79.24" r="0.6"/><circle cx="411.8" cy="79.91" r="0.6"/><circle cx="419.2" cy="80.27" r="0.6"/><circle cx="416.75" cy="80.8" r="0.6"/><circle cx="414.31" cy="81.33" r="0.6"/><circle cx="411.87" cy="81.85" r="0.6"/><circle cx="409.42" cy="82.38" r="0.6"/><circle cx="425.22" cy="81.26" r="0.6"/><circle cx="422.76" cy="81.66" r="0.6"/><circle cx="420.29" cy="82.06" r="0.6"/><circle cx="417.82" cy="82.47" r="0.6"/><circle cx="415.35" cy="82.87" r="0.6"/><circle cx="429.11" cy="82.69" r="0.6"/><circle cx="426.63" cy="82.99" r="0.6"/><circle cx="424.15" cy="83.29" r="0.6"/><circle cx="421.66" cy="83.59" r="0.6"/><circle cx="419.18" cy="83.89" r="0.6"/><circle cx="416.7" cy="84.19" r="0.6"/></g>
<line x1="391.09" y1="91.39" x2="398.18" y2="89.25" stroke="#8a98a8" stroke-width="0.4" />
<line x1="398.18" y1="89.25" x2="407.13" y2="88.3" stroke="#8a98a8" stroke-width="0.4" />
<line x1="407.13" y1="88.3" x2="429.66" y2="87.17" stroke="#8a98a8" stroke-width="0.38" />
<line x1="398.18" y1="89.25" x2="407.78" y2="90.01" stroke="#8a98a8" stroke-width="0.4" />
<line x1="407.78" y1="90.01" x2="412.92" y2="88.04" stroke="#8a98a8" stroke-width="0.4" />
<line x1="412.92" y1="88.04" x2="435.75" y2="88.76" stroke="#8a98a8" stroke-width="0.38" />
<line x1="407.78" y1="90.01" x2="417.24" y2="89.56" stroke="#8a98a8" stroke-width="0.4" />
<line x1="417.24" y1="89.56" x2="430.36" y2="89.88" stroke="#8a98a8" stroke-width="0.38" />
<line x1="407.78" y1="90.01" x2="417.34" y2="91.49" stroke="#8a98a8" stroke-width="0.4" />
<line x1="417.34" y1="91.49" x2="427.24" y2="91.92" stroke="#8a98a8" stroke-width="0.4" />
<line x1="427.24" y1="91.92" x2="440.98" y2="92.95" stroke="#8a98a8" stroke-width="0.38" />
<line x1="417.34" y1="91.49" x2="425.78" y2="94.04" stroke="#8a98a8" stroke-width="0.4" />
<line x1="425.78" y1="94.04" x2="432.03" y2="93" stroke="#8a98a8" stroke-width="0.4" />
<line x1="432.03" y1="93" x2="452.69" y2="95.2" stroke="#8a98a8" stroke-width="0.38" />
<line x1="425.78" y1="94.04" x2="433.51" y2="96.24" stroke="#8a98a8" stroke-width="0.4" />
<line x1="433.51" y1="96.24" x2="446.3" y2="97.07" stroke="#8a98a8" stroke-width="0.38" />
<line x1="391.09" y1="91.39" x2="396.86" y2="91.17" stroke="#8a98a8" stroke-width="0.4" />
<line x1="396.86" y1="91.17" x2="402.43" y2="91.97" stroke="#8a98a8" stroke-width="0.4" />
<line x1="402.43" y1="91.97" x2="410.78" y2="92.56" stroke="#8a98a8" stroke-width="0.4" />
<line x1="410.78" y1="92.56" x2="429.34" y2="95.94" stroke="#8a98a8" stroke-width="0.38" />
<line x1="402.43" y1="91.97" x2="412.02" y2="95.07" stroke="#8a98a8" stroke-width="0.4" />
<line x1="412.02" y1="95.07" x2="430.66" y2="97.58" stroke="#8a98a8" stroke-width="0.38" />
<line x1="396.86" y1="91.17" x2="405.11" y2="94.37" stroke="#8a98a8" stroke-width="0.4" />
<line x1="405.11" y1="94.37" x2="422.9" y2="97.57" stroke="#8a98a8" stroke-width="0.38" />
<line x1="391.09" y1="91.39" x2="398.92" y2="96.71" stroke="#8a98a8" stroke-width="0.4" />
<line x1="398.92" y1="96.71" x2="404.44" y2="97.01" stroke="#8a98a8" stroke-width="0.4" />
<line x1="404.44" y1="97.01" x2="413.94" y2="97.62" stroke="#8a98a8" stroke-width="0.4" />
<line x1="413.94" y1="97.62" x2="428.44" y2="100.47" stroke="#8a98a8" stroke-width="0.38" />
<line x1="404.44" y1="97.01" x2="410.49" y2="97.71" stroke="#8a98a8" stroke-width="0.4" />
<line x1="410.49" y1="97.71" x2="419.46" y2="99.05" stroke="#8a98a8" stroke-width="0.4" />
<line x1="419.46" y1="99.05" x2="434.53" y2="103.48" stroke="#8a98a8" stroke-width="0.38" />
<line x1="410.49" y1="97.71" x2="418.74" y2="100.78" stroke="#8a98a8" stroke-width="0.4" />
<line x1="418.74" y1="100.78" x2="433.04" y2="105.54" stroke="#8a98a8" stroke-width="0.38" />
<line x1="404.44" y1="97.01" x2="411.77" y2="100.42" stroke="#8a98a8" stroke-width="0.4" />
<line x1="411.77" y1="100.42" x2="417.61" y2="101.95" stroke="#8a98a8" stroke-width="0.4" />
<line x1="417.61" y1="101.95" x2="426.67" y2="105.88" stroke="#8a98a8" stroke-width="0.4" />
<line x1="426.67" y1="105.88" x2="439.57" y2="109.78" stroke="#8a98a8" stroke-width="0.38" />
<line x1="417.61" y1="101.95" x2="426.16" y2="105.23" stroke="#8a98a8" stroke-width="0.4" />
<line x1="426.16" y1="105.23" x2="439.86" y2="111.04" stroke="#8a98a8" stroke-width="0.38" />
<line x1="411.77" y1="100.42" x2="417.61" y2="104.78" stroke="#8a98a8" stroke-width="0.4" />
<line x1="417.61" y1="104.78" x2="423.47" y2="106.34" stroke="#8a98a8" stroke-width="0.4" />
<line x1="423.47" y1="106.34" x2="443.05" y2="115.62" stroke="#8a98a8" stroke-width="0.38" />
<line x1="417.61" y1="104.78" x2="422.42" y2="106.53" stroke="#8a98a8" stroke-width="0.4" />
<line x1="422.42" y1="106.53" x2="433.48" y2="112.33" stroke="#8a98a8" stroke-width="0.38" />
<line x1="398.92" y1="96.71" x2="406.03" y2="101.53" stroke="#8a98a8" stroke-width="0.4" />
<line x1="406.03" y1="101.53" x2="413.8" y2="105.72" stroke="#8a98a8" stroke-width="0.4" />
<line x1="413.8" y1="105.72" x2="427.08" y2="112.01" stroke="#8a98a8" stroke-width="0.38" />
<line x1="406.03" y1="101.53" x2="410.59" y2="105" stroke="#8a98a8" stroke-width="0.4" />
<line x1="410.59" y1="105" x2="423.62" y2="111.01" stroke="#8a98a8" stroke-width="0.38" />
<line x1="398.92" y1="96.71" x2="405.59" y2="104.69" stroke="#8a98a8" stroke-width="0.4" />
<line x1="405.59" y1="104.69" x2="412.51" y2="107.19" stroke="#8a98a8" stroke-width="0.4" />
<line x1="412.51" y1="107.19" x2="428.28" y2="115.6" stroke="#8a98a8" stroke-width="0.38" />
<line x1="405.59" y1="104.69" x2="411.9" y2="109.23" stroke="#8a98a8" stroke-width="0.4" />
<line x1="411.9" y1="109.23" x2="419.59" y2="111.12" stroke="#8a98a8" stroke-width="0.4" />
<line x1="419.59" y1="111.12" x2="437.76" y2="123.97" stroke="#8a98a8" stroke-width="0.38" />
<line x1="411.9" y1="109.23" x2="417.07" y2="112.67" stroke="#8a98a8" stroke-width="0.4" />
<line x1="417.07" y1="112.67" x2="433.69" y2="123.7" stroke="#8a98a8" stroke-width="0.38" />
<g fill="#7e92a4"><circle cx="429.66" cy="87.17" r="0.6"/><circle cx="427.16" cy="87.24" r="0.6"/><circle cx="424.67" cy="87.31" r="0.6"/><circle cx="422.17" cy="87.38" r="0.6"/><circle cx="419.67" cy="87.45" r="0.6"/><circle cx="417.17" cy="87.51" r="0.6"/><circle cx="435.75" cy="88.76" r="0.6"/><circle cx="433.25" cy="88.75" r="0.6"/><circle cx="430.75" cy="88.74" r="0.6"/><circle cx="428.25" cy="88.73" r="0.6"/><circle cx="425.75" cy="88.72" r="0.6"/><circle cx="430.36" cy="89.88" r="0.6"/><circle cx="427.86" cy="89.81" r="0.6"/><circle cx="425.36" cy="89.74" r="0.6"/><circle cx="422.86" cy="89.67" r="0.6"/><circle cx="420.37" cy="89.6" r="0.6"/><circle cx="440.98" cy="92.95" r="0.6"/><circle cx="438.49" cy="92.77" r="0.6"/><circle cx="435.99" cy="92.58" r="0.6"/><circle cx="433.5" cy="92.4" r="0.6"/><circle cx="431.01" cy="92.21" r="0.6"/><circle cx="452.69" cy="95.2" r="0.6"/><circle cx="450.2" cy="94.97" r="0.6"/><circle cx="447.71" cy="94.74" r="0.6"/><circle cx="445.22" cy="94.5" r="0.6"/><circle cx="442.73" cy="94.27" r="0.6"/><circle cx="440.24" cy="94.04" r="0.6"/><circle cx="446.3" cy="97.07" r="0.6"/><circle cx="443.82" cy="96.74" r="0.6"/><circle cx="441.34" cy="96.41" r="0.6"/><circle cx="438.86" cy="96.09" r="0.6"/><circle cx="429.34" cy="95.94" r="0.6"/><circle cx="426.87" cy="95.56" r="0.6"/><circle cx="424.4" cy="95.18" r="0.6"/><circle cx="421.93" cy="94.8" r="0.6"/><circle cx="419.46" cy="94.42" r="0.6"/><circle cx="416.99" cy="94.04" r="0.6"/><circle cx="430.66" cy="97.58" r="0.6"/><circle cx="428.2" cy="97.13" r="0.6"/><circle cx="425.75" cy="96.68" r="0.6"/><circle cx="423.29" cy="96.23" r="0.6"/><circle cx="420.83" cy="95.78" r="0.6"/><circle cx="418.37" cy="95.33" r="0.6"/><circle cx="422.9" cy="97.57" r="0.6"/><circle cx="420.45" cy="97.04" r="0.6"/><circle cx="418.01" cy="96.51" r="0.6"/><circle cx="415.57" cy="95.98" r="0.6"/><circle cx="428.44" cy="100.47" r="0.6"/><circle cx="426.02" cy="99.86" r="0.6"/><circle cx="423.6" cy="99.25" r="0.6"/><circle cx="421.17" cy="98.64" r="0.6"/><circle cx="434.53" cy="103.48" r="0.6"/><circle cx="432.12" cy="102.8" r="0.6"/><circle cx="429.71" cy="102.13" r="0.6"/><circle cx="427.3" cy="101.46" r="0.6"/><circle cx="424.9" cy="100.78" r="0.6"/><circle cx="422.49" cy="100.11" r="0.6"/><circle cx="433.04" cy="105.54" r="0.6"/><circle cx="430.66" cy="104.76" r="0.6"/><circle cx="428.29" cy="103.98" r="0.6"/><circle cx="425.91" cy="103.2" r="0.6"/><circle cx="423.53" cy="102.43" r="0.6"/><circle cx="421.16" cy="101.65" r="0.6"/><circle cx="439.57" cy="109.78" r="0.6"/><circle cx="437.22" cy="108.93" r="0.6"/><circle cx="434.87" cy="108.07" r="0.6"/><circle cx="432.52" cy="107.22" r="0.6"/><circle cx="430.17" cy="106.36" r="0.6"/><circle cx="439.86" cy="111.04" r="0.6"/><circle cx="437.53" cy="110.15" r="0.6"/><circle cx="435.2" cy="109.26" r="0.6"/><circle cx="432.86" cy="108.36" r="0.6"/><circle cx="430.53" cy="107.47" r="0.6"/><circle cx="443.05" cy="115.62" r="0.6"/><circle cx="440.76" cy="114.62" r="0.6"/><circle cx="438.47" cy="113.62" r="0.6"/><circle cx="436.18" cy="112.62" r="0.6"/><circle cx="433.48" cy="112.33" r="0.6"/><circle cx="431.2" cy="111.3" r="0.6"/><circle cx="428.93" cy="110.27" r="0.6"/><circle cx="427.08" cy="112.01" r="0.6"/><circle cx="424.85" cy="110.88" r="0.6"/><circle cx="422.62" cy="109.74" r="0.6"/><circle cx="423.62" cy="111.01" r="0.6"/><circle cx="421.41" cy="109.85" r="0.6"/><circle cx="419.2" cy="108.68" r="0.6"/><circle cx="428.28" cy="115.6" r="0.6"/><circle cx="426.11" cy="114.35" r="0.6"/><circle cx="423.95" cy="113.11" r="0.6"/><circle cx="437.76" cy="123.97" r="0.6"/><circle cx="435.64" cy="122.65" r="0.6"/><circle cx="433.52" cy="121.32" r="0.6"/><circle cx="433.69" cy="123.7" r="0.6"/><circle cx="431.61" cy="122.32" r="0.6"/><circle cx="429.53" cy="120.93" r="0.6"/><circle cx="427.45" cy="119.54" r="0.6"/><circle cx="425.37" cy="118.15" r="0.6"/></g>
<line x1="385.27" y1="98.09" x2="390.2" y2="103.99" stroke="#a0a086" stroke-width="0.4" />
<line x1="390.2" y1="103.99" x2="394.67" y2="108.27" stroke="#a0a086" stroke-width="0.4" />
<line x1="394.67" y1="108.27" x2="400.77" y2="113.95" stroke="#a0a086" stroke-width="0.4" />
<line x1="400.77" y1="113.95" x2="411.19" y2="116.24" stroke="#a0a086" stroke-width="0.4" />
<line x1="411.19" y1="116.24" x2="415.92" y2="118.85" stroke="#a0a086" stroke-width="0.4" />
<line x1="415.92" y1="118.85" x2="429.93" y2="128.24" stroke="#a0a086" stroke-width="0.38" />
<line x1="415.92" y1="118.85" x2="433.03" y2="133.97" stroke="#a0a086" stroke-width="0.38" />
<line x1="411.19" y1="116.24" x2="417.66" y2="123.21" stroke="#a0a086" stroke-width="0.4" />
<line x1="417.66" y1="123.21" x2="428.63" y2="132.59" stroke="#a0a086" stroke-width="0.38" />
<line x1="411.19" y1="116.24" x2="414.06" y2="123.63" stroke="#a0a086" stroke-width="0.4" />
<line x1="414.06" y1="123.63" x2="427.12" y2="135.72" stroke="#a0a086" stroke-width="0.38" />
<line x1="414.06" y1="123.63" x2="422.37" y2="133.84" stroke="#a0a086" stroke-width="0.38" />
<line x1="400.77" y1="113.95" x2="405.72" y2="121.54" stroke="#a0a086" stroke-width="0.4" />
<line x1="405.72" y1="121.54" x2="411.68" y2="127.97" stroke="#a0a086" stroke-width="0.4" />
<line x1="411.68" y1="127.97" x2="422.35" y2="138.77" stroke="#a0a086" stroke-width="0.38" />
<line x1="411.68" y1="127.97" x2="420.34" y2="138.79" stroke="#a0a086" stroke-width="0.38" />
<line x1="411.68" y1="127.97" x2="417.69" y2="140.78" stroke="#a0a086" stroke-width="0.38" />
<line x1="411.68" y1="127.97" x2="420.04" y2="149" stroke="#a0a086" stroke-width="0.38" />
<line x1="405.72" y1="121.54" x2="407.34" y2="130.88" stroke="#a0a086" stroke-width="0.4" />
<line x1="407.34" y1="130.88" x2="414.46" y2="143.29" stroke="#a0a086" stroke-width="0.38" />
<line x1="400.77" y1="113.95" x2="399.12" y2="122.26" stroke="#a0a086" stroke-width="0.4" />
<line x1="399.12" y1="122.26" x2="404.7" y2="130.19" stroke="#a0a086" stroke-width="0.4" />
<line x1="404.7" y1="130.19" x2="415.24" y2="149.96" stroke="#a0a086" stroke-width="0.38" />
<line x1="399.12" y1="122.26" x2="402.65" y2="130.59" stroke="#a0a086" stroke-width="0.4" />
<line x1="402.65" y1="130.59" x2="411.26" y2="150.63" stroke="#a0a086" stroke-width="0.38" />
<line x1="394.67" y1="108.27" x2="392.76" y2="117.5" stroke="#a0a086" stroke-width="0.4" />
<line x1="392.76" y1="117.5" x2="397.15" y2="124.56" stroke="#a0a086" stroke-width="0.4" />
<line x1="397.15" y1="124.56" x2="405.79" y2="145.62" stroke="#a0a086" stroke-width="0.38" />
<line x1="392.76" y1="117.5" x2="395.61" y2="122.97" stroke="#a0a086" stroke-width="0.4" />
<line x1="395.61" y1="122.97" x2="400.19" y2="136.15" stroke="#a0a086" stroke-width="0.38" />
<line x1="394.67" y1="108.27" x2="391.77" y2="120.12" stroke="#a0a086" stroke-width="0.4" />
<line x1="391.77" y1="120.12" x2="395.2" y2="127.77" stroke="#a0a086" stroke-width="0.4" />
<line x1="395.2" y1="127.77" x2="402.63" y2="148.96" stroke="#a0a086" stroke-width="0.38" />
<line x1="391.77" y1="120.12" x2="393.16" y2="125.8" stroke="#a0a086" stroke-width="0.4" />
<line x1="393.16" y1="125.8" x2="399.34" y2="145.91" stroke="#a0a086" stroke-width="0.38" />
<line x1="390.2" y1="103.99" x2="387.05" y2="111.08" stroke="#a0a086" stroke-width="0.4" />
<line x1="387.05" y1="111.08" x2="389.44" y2="118.34" stroke="#a0a086" stroke-width="0.4" />
<line x1="389.44" y1="118.34" x2="393.18" y2="133.73" stroke="#a0a086" stroke-width="0.38" />
<line x1="387.05" y1="111.08" x2="387.94" y2="117.73" stroke="#a0a086" stroke-width="0.4" />
<line x1="387.94" y1="117.73" x2="392.57" y2="140.57" stroke="#a0a086" stroke-width="0.38" />
<line x1="385.27" y1="98.09" x2="383.11" y2="107.65" stroke="#a0a086" stroke-width="0.4" />
<line x1="383.11" y1="107.65" x2="386.04" y2="114.72" stroke="#a0a086" stroke-width="0.4" />
<line x1="386.04" y1="114.72" x2="388.05" y2="128.76" stroke="#a0a086" stroke-width="0.38" />
<line x1="383.11" y1="107.65" x2="383.52" y2="113.98" stroke="#a0a086" stroke-width="0.4" />
<line x1="383.52" y1="113.98" x2="385.24" y2="119.71" stroke="#a0a086" stroke-width="0.4" />
<line x1="385.24" y1="119.71" x2="387.64" y2="136.37" stroke="#a0a086" stroke-width="0.38" />
<line x1="383.52" y1="113.98" x2="383.47" y2="121.05" stroke="#a0a086" stroke-width="0.4" />
<line x1="383.47" y1="121.05" x2="385.24" y2="128.29" stroke="#a0a086" stroke-width="0.4" />
<line x1="385.24" y1="128.29" x2="387.07" y2="149.85" stroke="#a0a086" stroke-width="0.38" />
<line x1="383.47" y1="121.05" x2="384.64" y2="130.28" stroke="#a0a086" stroke-width="0.4" />
<line x1="384.64" y1="130.28" x2="385.33" y2="152.75" stroke="#a0a086" stroke-width="0.38" />
<line x1="385.27" y1="98.09" x2="380.14" y2="107.62" stroke="#a0a086" stroke-width="0.4" />
<line x1="380.14" y1="107.62" x2="381.3" y2="115.98" stroke="#a0a086" stroke-width="0.4" />
<line x1="381.3" y1="115.98" x2="381.23" y2="122.26" stroke="#a0a086" stroke-width="0.4" />
<line x1="381.23" y1="122.26" x2="382.16" y2="136.77" stroke="#a0a086" stroke-width="0.38" />
<line x1="381.3" y1="115.98" x2="380.98" y2="123.09" stroke="#a0a086" stroke-width="0.4" />
<line x1="380.98" y1="123.09" x2="380.26" y2="137.86" stroke="#a0a086" stroke-width="0.38" />
<line x1="380.14" y1="107.62" x2="379.19" y2="114.62" stroke="#a0a086" stroke-width="0.4" />
<line x1="379.19" y1="114.62" x2="377.92" y2="137.6" stroke="#a0a086" stroke-width="0.38" />
<g fill="#94a274"><circle cx="429.93" cy="128.24" r="0.6"/><circle cx="427.99" cy="126.66" r="0.6"/><circle cx="426.05" cy="125.09" r="0.6"/><circle cx="424.11" cy="123.51" r="0.6"/><circle cx="422.17" cy="121.94" r="0.6"/><circle cx="420.23" cy="120.36" r="0.6"/><circle cx="433.03" cy="133.97" r="0.6"/><circle cx="431.15" cy="132.33" r="0.6"/><circle cx="429.27" cy="130.68" r="0.6"/><circle cx="427.39" cy="129.04" r="0.6"/><circle cx="428.63" cy="132.59" r="0.6"/><circle cx="426.8" cy="130.9" r="0.6"/><circle cx="424.96" cy="129.2" r="0.6"/><circle cx="427.12" cy="135.72" r="0.6"/><circle cx="425.37" cy="133.93" r="0.6"/><circle cx="423.62" cy="132.14" r="0.6"/><circle cx="422.37" cy="133.84" r="0.6"/><circle cx="420.68" cy="132" r="0.6"/><circle cx="419" cy="130.15" r="0.6"/><circle cx="417.31" cy="128.3" r="0.6"/><circle cx="422.35" cy="138.77" r="0.6"/><circle cx="420.77" cy="136.84" r="0.6"/><circle cx="419.18" cy="134.91" r="0.6"/><circle cx="417.59" cy="132.98" r="0.6"/><circle cx="420.34" cy="138.79" r="0.6"/><circle cx="418.8" cy="136.82" r="0.6"/><circle cx="417.26" cy="134.85" r="0.6"/><circle cx="415.72" cy="132.88" r="0.6"/><circle cx="417.69" cy="140.78" r="0.6"/><circle cx="416.25" cy="138.73" r="0.6"/><circle cx="414.82" cy="136.68" r="0.6"/><circle cx="413.38" cy="134.64" r="0.6"/><circle cx="411.95" cy="132.59" r="0.6"/><circle cx="420.04" cy="149" r="0.6"/><circle cx="418.68" cy="146.9" r="0.6"/><circle cx="417.33" cy="144.8" r="0.6"/><circle cx="415.97" cy="142.7" r="0.6"/><circle cx="414.62" cy="140.6" r="0.6"/><circle cx="413.26" cy="138.5" r="0.6"/><circle cx="414.46" cy="143.29" r="0.6"/><circle cx="413.16" cy="141.16" r="0.6"/><circle cx="411.85" cy="139.02" r="0.6"/><circle cx="410.55" cy="136.89" r="0.6"/><circle cx="409.25" cy="134.76" r="0.6"/><circle cx="407.94" cy="132.62" r="0.6"/><circle cx="415.24" cy="149.96" r="0.6"/><circle cx="414.03" cy="147.78" r="0.6"/><circle cx="412.81" cy="145.6" r="0.6"/><circle cx="411.59" cy="143.41" r="0.6"/><circle cx="410.38" cy="141.23" r="0.6"/><circle cx="409.16" cy="139.05" r="0.6"/><circle cx="411.26" cy="150.63" r="0.6"/><circle cx="410.16" cy="148.38" r="0.6"/><circle cx="409.07" cy="146.13" r="0.6"/><circle cx="407.97" cy="143.89" r="0.6"/><circle cx="406.88" cy="141.64" r="0.6"/><circle cx="405.78" cy="139.39" r="0.6"/><circle cx="405.79" cy="145.62" r="0.6"/><circle cx="404.79" cy="143.33" r="0.6"/><circle cx="403.8" cy="141.03" r="0.6"/><circle cx="402.8" cy="138.74" r="0.6"/><circle cx="401.81" cy="136.45" r="0.6"/><circle cx="400.19" cy="136.15" r="0.6"/><circle cx="399.26" cy="133.83" r="0.6"/><circle cx="398.32" cy="131.51" r="0.6"/><circle cx="397.39" cy="129.19" r="0.6"/><circle cx="396.45" cy="126.87" r="0.6"/><circle cx="402.63" cy="148.96" r="0.6"/><circle cx="401.79" cy="146.6" r="0.6"/><circle cx="400.95" cy="144.25" r="0.6"/><circle cx="400.11" cy="141.9" r="0.6"/><circle cx="399.34" cy="145.91" r="0.6"/><circle cx="398.58" cy="143.52" r="0.6"/><circle cx="397.82" cy="141.14" r="0.6"/><circle cx="397.06" cy="138.76" r="0.6"/><circle cx="396.3" cy="136.38" r="0.6"/><circle cx="393.18" cy="133.73" r="0.6"/><circle cx="392.53" cy="131.32" r="0.6"/><circle cx="391.88" cy="128.9" r="0.6"/><circle cx="392.57" cy="140.57" r="0.6"/><circle cx="392.02" cy="138.13" r="0.6"/><circle cx="391.48" cy="135.69" r="0.6"/><circle cx="390.94" cy="133.25" r="0.6"/><circle cx="388.05" cy="128.76" r="0.6"/><circle cx="387.62" cy="126.3" r="0.6"/><circle cx="387.19" cy="123.84" r="0.6"/><circle cx="386.76" cy="121.38" r="0.6"/><circle cx="386.33" cy="118.91" r="0.6"/><circle cx="385.9" cy="116.45" r="0.6"/><circle cx="387.64" cy="136.37" r="0.6"/><circle cx="387.3" cy="133.89" r="0.6"/><circle cx="386.96" cy="131.41" r="0.6"/><circle cx="386.61" cy="128.94" r="0.6"/><circle cx="386.27" cy="126.46" r="0.6"/><circle cx="385.92" cy="123.98" r="0.6"/><circle cx="387.07" cy="149.85" r="0.6"/><circle cx="386.82" cy="147.36" r="0.6"/><circle cx="386.58" cy="144.88" r="0.6"/><circle cx="385.33" cy="152.75" r="0.6"/><circle cx="385.17" cy="150.26" r="0.6"/><circle cx="385" cy="147.76" r="0.6"/><circle cx="384.83" cy="145.27" r="0.6"/><circle cx="382.16" cy="136.77" r="0.6"/><circle cx="382.1" cy="134.27" r="0.6"/><circle cx="382.04" cy="131.77" r="0.6"/><circle cx="381.98" cy="129.27" r="0.6"/><circle cx="381.92" cy="126.77" r="0.6"/><circle cx="381.86" cy="124.27" r="0.6"/><circle cx="380.26" cy="137.86" r="0.6"/><circle cx="380.3" cy="135.36" r="0.6"/><circle cx="380.33" cy="132.86" r="0.6"/><circle cx="377.92" cy="137.6" r="0.6"/><circle cx="378.08" cy="135.11" r="0.6"/><circle cx="378.23" cy="132.61" r="0.6"/><circle cx="378.39" cy="130.12" r="0.6"/><circle cx="378.55" cy="127.62" r="0.6"/><circle cx="378.7" cy="125.13" r="0.6"/></g>
<line x1="375.28" y1="97.31" x2="372.43" y2="106.85" stroke="#98b0ba" stroke-width="0.4" />
<line x1="372.43" y1="106.85" x2="369.32" y2="113.44" stroke="#98b0ba" stroke-width="0.4" />
<line x1="369.32" y1="113.44" x2="373.48" y2="120.92" stroke="#98b0ba" stroke-width="0.4" />
<line x1="373.48" y1="120.92" x2="372.8" y2="127.74" stroke="#98b0ba" stroke-width="0.4" />
<line x1="372.8" y1="127.74" x2="373.47" y2="137.28" stroke="#98b0ba" stroke-width="0.4" />
<line x1="373.47" y1="137.28" x2="370.08" y2="158.76" stroke="#98b0ba" stroke-width="0.38" />
<line x1="372.8" y1="127.74" x2="370.16" y2="136.05" stroke="#98b0ba" stroke-width="0.4" />
<line x1="370.16" y1="136.05" x2="366.74" y2="155.77" stroke="#98b0ba" stroke-width="0.38" />
<line x1="370.16" y1="136.05" x2="365.86" y2="148.31" stroke="#98b0ba" stroke-width="0.38" />
<line x1="373.48" y1="120.92" x2="368.78" y2="129.42" stroke="#98b0ba" stroke-width="0.4" />
<line x1="368.78" y1="129.42" x2="363.65" y2="144.84" stroke="#98b0ba" stroke-width="0.38" />
<line x1="369.32" y1="113.44" x2="363.06" y2="119.89" stroke="#98b0ba" stroke-width="0.4" />
<line x1="363.06" y1="119.89" x2="360.58" y2="129" stroke="#98b0ba" stroke-width="0.4" />
<line x1="360.58" y1="129" x2="362.43" y2="137.2" stroke="#98b0ba" stroke-width="0.4" />
<line x1="362.43" y1="137.2" x2="357.42" y2="154.94" stroke="#98b0ba" stroke-width="0.38" />
<line x1="360.58" y1="129" x2="362.44" y2="136.5" stroke="#98b0ba" stroke-width="0.4" />
<line x1="362.44" y1="136.5" x2="353.45" y2="155.02" stroke="#98b0ba" stroke-width="0.38" />
<line x1="360.58" y1="129" x2="356.34" y2="134.54" stroke="#98b0ba" stroke-width="0.4" />
<line x1="356.34" y1="134.54" x2="350.71" y2="153.82" stroke="#98b0ba" stroke-width="0.38" />
<line x1="356.34" y1="134.54" x2="348.06" y2="152.52" stroke="#98b0ba" stroke-width="0.38" />
<line x1="356.34" y1="134.54" x2="345.12" y2="149.34" stroke="#98b0ba" stroke-width="0.38" />
<line x1="356.34" y1="134.54" x2="343.39" y2="146.41" stroke="#98b0ba" stroke-width="0.38" />
<line x1="363.06" y1="119.89" x2="355.41" y2="124.96" stroke="#98b0ba" stroke-width="0.4" />
<line x1="355.41" y1="124.96" x2="345.3" y2="137.5" stroke="#98b0ba" stroke-width="0.38" />
<line x1="363.06" y1="119.89" x2="353.52" y2="122.65" stroke="#98b0ba" stroke-width="0.4" />
<line x1="353.52" y1="122.65" x2="342.94" y2="137.37" stroke="#98b0ba" stroke-width="0.38" />
<line x1="372.43" y1="106.85" x2="363.5" y2="108.29" stroke="#98b0ba" stroke-width="0.4" />
<line x1="363.5" y1="108.29" x2="359.25" y2="114.55" stroke="#98b0ba" stroke-width="0.4" />
<line x1="359.25" y1="114.55" x2="343.27" y2="132.26" stroke="#98b0ba" stroke-width="0.38" />
<line x1="363.5" y1="108.29" x2="356.98" y2="114.68" stroke="#98b0ba" stroke-width="0.4" />
<line x1="356.98" y1="114.68" x2="344.27" y2="127.27" stroke="#98b0ba" stroke-width="0.38" />
<line x1="375.28" y1="97.31" x2="367.07" y2="100.73" stroke="#98b0ba" stroke-width="0.4" />
<line x1="367.07" y1="100.73" x2="360.57" y2="107.28" stroke="#98b0ba" stroke-width="0.4" />
<line x1="360.57" y1="107.28" x2="350.79" y2="117.81" stroke="#98b0ba" stroke-width="0.38" />
<line x1="367.07" y1="100.73" x2="360.23" y2="105.75" stroke="#98b0ba" stroke-width="0.4" />
<line x1="360.23" y1="105.75" x2="353.94" y2="110.87" stroke="#98b0ba" stroke-width="0.4" />
<line x1="353.94" y1="110.87" x2="337.94" y2="125.94" stroke="#98b0ba" stroke-width="0.38" />
<line x1="360.23" y1="105.75" x2="353.84" y2="110.31" stroke="#98b0ba" stroke-width="0.4" />
<line x1="353.84" y1="110.31" x2="337.4" y2="122.62" stroke="#98b0ba" stroke-width="0.38" />
<line x1="375.28" y1="97.31" x2="368.3" y2="97.53" stroke="#98b0ba" stroke-width="0.4" />
<line x1="368.3" y1="97.53" x2="362" y2="101.53" stroke="#98b0ba" stroke-width="0.4" />
<line x1="362" y1="101.53" x2="342.96" y2="115.83" stroke="#98b0ba" stroke-width="0.38" />
<line x1="368.3" y1="97.53" x2="361.58" y2="101.76" stroke="#98b0ba" stroke-width="0.4" />
<line x1="361.58" y1="101.76" x2="343.08" y2="112.54" stroke="#98b0ba" stroke-width="0.38" />
<g fill="#80a8a0"><circle cx="370.08" cy="158.76" r="0.6"/><circle cx="370.46" cy="156.29" r="0.6"/><circle cx="370.84" cy="153.82" r="0.6"/><circle cx="371.23" cy="151.35" r="0.6"/><circle cx="371.61" cy="148.88" r="0.6"/><circle cx="372" cy="146.41" r="0.6"/><circle cx="366.74" cy="155.77" r="0.6"/><circle cx="367.26" cy="153.33" r="0.6"/><circle cx="367.78" cy="150.88" r="0.6"/><circle cx="368.3" cy="148.44" r="0.6"/><circle cx="368.81" cy="145.99" r="0.6"/><circle cx="365.86" cy="148.31" r="0.6"/><circle cx="366.47" cy="145.88" r="0.6"/><circle cx="367.08" cy="143.46" r="0.6"/><circle cx="367.7" cy="141.03" r="0.6"/><circle cx="363.65" cy="144.84" r="0.6"/><circle cx="364.39" cy="142.45" r="0.6"/><circle cx="365.13" cy="140.06" r="0.6"/><circle cx="357.42" cy="154.94" r="0.6"/><circle cx="358.25" cy="152.58" r="0.6"/><circle cx="359.09" cy="150.23" r="0.6"/><circle cx="359.93" cy="147.87" r="0.6"/><circle cx="360.76" cy="145.51" r="0.6"/><circle cx="353.45" cy="155.02" r="0.6"/><circle cx="354.41" cy="152.71" r="0.6"/><circle cx="355.37" cy="150.4" r="0.6"/><circle cx="350.71" cy="153.82" r="0.6"/><circle cx="351.77" cy="151.55" r="0.6"/><circle cx="352.82" cy="149.28" r="0.6"/><circle cx="353.87" cy="147.02" r="0.6"/><circle cx="348.06" cy="152.52" r="0.6"/><circle cx="349.21" cy="150.3" r="0.6"/><circle cx="350.35" cy="148.08" r="0.6"/><circle cx="351.49" cy="145.85" r="0.6"/><circle cx="352.64" cy="143.63" r="0.6"/><circle cx="353.78" cy="141.41" r="0.6"/><circle cx="345.12" cy="149.34" r="0.6"/><circle cx="346.39" cy="147.19" r="0.6"/><circle cx="347.66" cy="145.03" r="0.6"/><circle cx="348.93" cy="142.88" r="0.6"/><circle cx="343.39" cy="146.41" r="0.6"/><circle cx="344.75" cy="144.31" r="0.6"/><circle cx="346.11" cy="142.22" r="0.6"/><circle cx="347.48" cy="140.12" r="0.6"/><circle cx="348.84" cy="138.02" r="0.6"/><circle cx="350.2" cy="135.93" r="0.6"/><circle cx="345.3" cy="137.5" r="0.6"/><circle cx="346.77" cy="135.47" r="0.6"/><circle cx="348.24" cy="133.45" r="0.6"/><circle cx="342.94" cy="137.37" r="0.6"/><circle cx="344.47" cy="135.4" r="0.6"/><circle cx="346.01" cy="133.42" r="0.6"/><circle cx="347.55" cy="131.45" r="0.6"/><circle cx="343.27" cy="132.26" r="0.6"/><circle cx="344.9" cy="130.36" r="0.6"/><circle cx="346.53" cy="128.47" r="0.6"/><circle cx="344.27" cy="127.27" r="0.6"/><circle cx="345.99" cy="125.46" r="0.6"/><circle cx="347.71" cy="123.64" r="0.6"/><circle cx="349.43" cy="121.83" r="0.6"/><circle cx="351.14" cy="120.01" r="0.6"/><circle cx="350.79" cy="117.81" r="0.6"/><circle cx="352.59" cy="116.07" r="0.6"/><circle cx="354.38" cy="114.33" r="0.6"/><circle cx="356.17" cy="112.59" r="0.6"/><circle cx="357.97" cy="110.84" r="0.6"/><circle cx="359.76" cy="109.1" r="0.6"/><circle cx="337.94" cy="125.94" r="0.6"/><circle cx="339.82" cy="124.3" r="0.6"/><circle cx="341.71" cy="122.66" r="0.6"/><circle cx="343.6" cy="121.02" r="0.6"/><circle cx="345.48" cy="119.38" r="0.6"/><circle cx="347.37" cy="117.74" r="0.6"/><circle cx="337.4" cy="122.62" r="0.6"/><circle cx="339.37" cy="121.08" r="0.6"/><circle cx="341.34" cy="119.54" r="0.6"/><circle cx="343.3" cy="118" r="0.6"/><circle cx="345.27" cy="116.46" r="0.6"/><circle cx="347.24" cy="114.92" r="0.6"/><circle cx="342.96" cy="115.83" r="0.6"/><circle cx="344.99" cy="114.37" r="0.6"/><circle cx="347.02" cy="112.92" r="0.6"/><circle cx="349.05" cy="111.46" r="0.6"/><circle cx="351.08" cy="110" r="0.6"/><circle cx="353.11" cy="108.54" r="0.6"/><circle cx="343.08" cy="112.54" r="0.6"/><circle cx="345.19" cy="111.2" r="0.6"/><circle cx="347.3" cy="109.86" r="0.6"/></g>
<line x1="370.59" y1="89.83" x2="365.68" y2="95.11" stroke="#9cb8b8" stroke-width="0.4" />
<line x1="365.68" y1="95.11" x2="357.83" y2="100.18" stroke="#9cb8b8" stroke-width="0.4" />
<line x1="357.83" y1="100.18" x2="339.88" y2="109.79" stroke="#9cb8b8" stroke-width="0.38" />
<line x1="365.68" y1="95.11" x2="360.28" y2="98.11" stroke="#9cb8b8" stroke-width="0.4" />
<line x1="360.28" y1="98.11" x2="354.05" y2="100.47" stroke="#9cb8b8" stroke-width="0.4" />
<line x1="354.05" y1="100.47" x2="339.54" y2="107.1" stroke="#9cb8b8" stroke-width="0.38" />
<line x1="360.28" y1="98.11" x2="351.22" y2="101.02" stroke="#9cb8b8" stroke-width="0.4" />
<line x1="351.22" y1="101.02" x2="330.34" y2="109.3" stroke="#9cb8b8" stroke-width="0.38" />
<line x1="370.59" y1="89.83" x2="362.53" y2="89.28" stroke="#9cb8b8" stroke-width="0.4" />
<line x1="362.53" y1="89.28" x2="357.04" y2="91.63" stroke="#9cb8b8" stroke-width="0.4" />
<line x1="357.04" y1="91.63" x2="349.25" y2="97.83" stroke="#9cb8b8" stroke-width="0.4" />
<line x1="349.25" y1="97.83" x2="343.74" y2="101.92" stroke="#9cb8b8" stroke-width="0.4" />
<line x1="343.74" y1="101.92" x2="337.71" y2="104.04" stroke="#9cb8b8" stroke-width="0.4" />
<line x1="337.71" y1="104.04" x2="325.92" y2="108.15" stroke="#9cb8b8" stroke-width="0.38" />
<line x1="343.74" y1="101.92" x2="336.76" y2="102.18" stroke="#9cb8b8" stroke-width="0.4" />
<line x1="336.76" y1="102.18" x2="322.91" y2="106.86" stroke="#9cb8b8" stroke-width="0.38" />
<line x1="349.25" y1="97.83" x2="339.75" y2="98.5" stroke="#9cb8b8" stroke-width="0.4" />
<line x1="339.75" y1="98.5" x2="326.4" y2="102.92" stroke="#9cb8b8" stroke-width="0.38" />
<line x1="357.04" y1="91.63" x2="349.11" y2="95.39" stroke="#9cb8b8" stroke-width="0.4" />
<line x1="349.11" y1="95.39" x2="339.95" y2="98.53" stroke="#9cb8b8" stroke-width="0.4" />
<line x1="339.95" y1="98.53" x2="317.53" y2="101.88" stroke="#9cb8b8" stroke-width="0.38" />
<line x1="349.11" y1="95.39" x2="340.89" y2="95.71" stroke="#9cb8b8" stroke-width="0.4" />
<line x1="340.89" y1="95.71" x2="322.1" y2="98.7" stroke="#9cb8b8" stroke-width="0.38" />
<line x1="357.04" y1="91.63" x2="350.23" y2="89.76" stroke="#9cb8b8" stroke-width="0.4" />
<line x1="350.23" y1="89.76" x2="344.1" y2="92.3" stroke="#9cb8b8" stroke-width="0.4" />
<line x1="344.1" y1="92.3" x2="329.02" y2="95.59" stroke="#9cb8b8" stroke-width="0.38" />
<line x1="350.23" y1="89.76" x2="344.45" y2="89.55" stroke="#9cb8b8" stroke-width="0.4" />
<line x1="344.45" y1="89.55" x2="335.87" y2="91.42" stroke="#9cb8b8" stroke-width="0.4" />
<line x1="335.87" y1="91.42" x2="317.82" y2="94.05" stroke="#9cb8b8" stroke-width="0.38" />
<line x1="335.87" y1="91.42" x2="317.21" y2="90.95" stroke="#9cb8b8" stroke-width="0.38" />
<line x1="344.45" y1="89.55" x2="338.54" y2="87.8" stroke="#9cb8b8" stroke-width="0.4" />
<line x1="338.54" y1="87.8" x2="320.75" y2="87.95" stroke="#9cb8b8" stroke-width="0.38" />
<line x1="350.23" y1="89.76" x2="342.25" y2="87.36" stroke="#9cb8b8" stroke-width="0.4" />
<line x1="342.25" y1="87.36" x2="323.06" y2="85.98" stroke="#9cb8b8" stroke-width="0.38" />
<line x1="362.53" y1="89.28" x2="354.06" y2="85.02" stroke="#9cb8b8" stroke-width="0.4" />
<line x1="354.06" y1="85.02" x2="346.4" y2="83.95" stroke="#9cb8b8" stroke-width="0.4" />
<line x1="346.4" y1="83.95" x2="337.12" y2="85.59" stroke="#9cb8b8" stroke-width="0.4" />
<line x1="337.12" y1="85.59" x2="321.87" y2="83.65" stroke="#9cb8b8" stroke-width="0.38" />
<line x1="346.4" y1="83.95" x2="340.8" y2="82.15" stroke="#9cb8b8" stroke-width="0.4" />
<line x1="340.8" y1="82.15" x2="328.75" y2="81.51" stroke="#9cb8b8" stroke-width="0.38" />
<line x1="354.06" y1="85.02" x2="346.02" y2="81.94" stroke="#9cb8b8" stroke-width="0.4" />
<line x1="346.02" y1="81.94" x2="331.28" y2="80.07" stroke="#9cb8b8" stroke-width="0.38" />
<line x1="362.53" y1="89.28" x2="357.67" y2="82.75" stroke="#9cb8b8" stroke-width="0.4" />
<line x1="357.67" y1="82.75" x2="337.06" y2="79.1" stroke="#9cb8b8" stroke-width="0.38" />
<g fill="#84aca4"><circle cx="339.88" cy="109.79" r="0.6"/><circle cx="342.1" cy="108.64" r="0.6"/><circle cx="344.32" cy="107.49" r="0.6"/><circle cx="346.54" cy="106.34" r="0.6"/><circle cx="348.76" cy="105.19" r="0.6"/><circle cx="350.98" cy="104.04" r="0.6"/><circle cx="339.54" cy="107.1" r="0.6"/><circle cx="341.82" cy="106.08" r="0.6"/><circle cx="344.1" cy="105.05" r="0.6"/><circle cx="330.34" cy="109.3" r="0.6"/><circle cx="332.65" cy="108.35" r="0.6"/><circle cx="334.96" cy="107.4" r="0.6"/><circle cx="337.27" cy="106.45" r="0.6"/><circle cx="325.92" cy="108.15" r="0.6"/><circle cx="328.28" cy="107.31" r="0.6"/><circle cx="330.63" cy="106.47" r="0.6"/><circle cx="332.99" cy="105.63" r="0.6"/><circle cx="335.34" cy="104.79" r="0.6"/><circle cx="322.91" cy="106.86" r="0.6"/><circle cx="325.29" cy="106.1" r="0.6"/><circle cx="327.67" cy="105.35" r="0.6"/><circle cx="326.4" cy="102.92" r="0.6"/><circle cx="328.82" cy="102.28" r="0.6"/><circle cx="331.24" cy="101.64" r="0.6"/><circle cx="333.65" cy="101" r="0.6"/><circle cx="336.07" cy="100.36" r="0.6"/><circle cx="338.49" cy="99.73" r="0.6"/><circle cx="317.53" cy="101.88" r="0.6"/><circle cx="319.98" cy="101.37" r="0.6"/><circle cx="322.42" cy="100.85" r="0.6"/><circle cx="324.87" cy="100.33" r="0.6"/><circle cx="327.32" cy="99.82" r="0.6"/><circle cx="329.76" cy="99.3" r="0.6"/><circle cx="322.1" cy="98.7" r="0.6"/><circle cx="324.57" cy="98.28" r="0.6"/><circle cx="327.03" cy="97.85" r="0.6"/><circle cx="329.49" cy="97.42" r="0.6"/><circle cx="331.96" cy="97" r="0.6"/><circle cx="334.42" cy="96.57" r="0.6"/><circle cx="329.02" cy="95.59" r="0.6"/><circle cx="331.5" cy="95.25" r="0.6"/><circle cx="333.97" cy="94.91" r="0.6"/><circle cx="317.82" cy="94.05" r="0.6"/><circle cx="320.31" cy="93.83" r="0.6"/><circle cx="322.8" cy="93.61" r="0.6"/><circle cx="325.29" cy="93.4" r="0.6"/><circle cx="327.78" cy="93.18" r="0.6"/><circle cx="317.21" cy="90.95" r="0.6"/><circle cx="319.71" cy="90.85" r="0.6"/><circle cx="322.21" cy="90.75" r="0.6"/><circle cx="320.75" cy="87.95" r="0.6"/><circle cx="323.25" cy="87.97" r="0.6"/><circle cx="325.75" cy="88" r="0.6"/><circle cx="328.25" cy="88.02" r="0.6"/><circle cx="323.06" cy="85.98" r="0.6"/><circle cx="325.56" cy="86.08" r="0.6"/><circle cx="328.06" cy="86.19" r="0.6"/><circle cx="330.55" cy="86.3" r="0.6"/><circle cx="333.05" cy="86.41" r="0.6"/><circle cx="335.55" cy="86.52" r="0.6"/><circle cx="321.87" cy="83.65" r="0.6"/><circle cx="324.36" cy="83.86" r="0.6"/><circle cx="326.85" cy="84.06" r="0.6"/><circle cx="329.34" cy="84.27" r="0.6"/><circle cx="331.83" cy="84.47" r="0.6"/><circle cx="334.33" cy="84.67" r="0.6"/><circle cx="328.75" cy="81.51" r="0.6"/><circle cx="331.22" cy="81.84" r="0.6"/><circle cx="333.7" cy="82.17" r="0.6"/><circle cx="336.18" cy="82.5" r="0.6"/><circle cx="338.66" cy="82.84" r="0.6"/><circle cx="341.14" cy="83.17" r="0.6"/><circle cx="331.28" cy="80.07" r="0.6"/><circle cx="333.74" cy="80.49" r="0.6"/><circle cx="336.21" cy="80.91" r="0.6"/><circle cx="337.06" cy="79.1" r="0.6"/><circle cx="339.5" cy="79.62" r="0.6"/><circle cx="341.94" cy="80.15" r="0.6"/><circle cx="344.39" cy="80.67" r="0.6"/></g>
<circle cx="381.0" cy="88.5" r="9.5" fill="#fff"/>
<line x1="380.3" y1="76.52" x2="378.8" y2="51" stroke="#7aa0b0" stroke-width="0.45" />
<line x1="389.68" y1="80.22" x2="429" y2="42.7" stroke="#7aa0b0" stroke-width="0.45" />
<line x1="391.45" y1="82.6" x2="433.8" y2="58.7" stroke="#7aa0b0" stroke-width="0.45" />
<line x1="391.71" y1="83.09" x2="421" y2="68.3" stroke="#7aa0b0" stroke-width="0.45" />
<line x1="391.99" y1="83.67" x2="431.5" y2="66.3" stroke="#7aa0b0" stroke-width="0.45" />
<line x1="392.21" y1="84.23" x2="437.7" y2="66.9" stroke="#7aa0b0" stroke-width="0.45" />
<line x1="392.27" y1="84.37" x2="441.5" y2="66.3" stroke="#7aa0b0" stroke-width="0.45" />
<line x1="392.29" y1="84.45" x2="439.5" y2="67.5" stroke="#7aa0b0" stroke-width="0.45" />
<line x1="392.62" y1="85.5" x2="459.2" y2="68.3" stroke="#7aa0b0" stroke-width="0.45" />
<line x1="392.99" y1="87.91" x2="411.7" y2="87" stroke="#7aa0b0" stroke-width="0.45" />
<line x1="369.04" y1="87.48" x2="325" y2="83.7" stroke="#7aa0b0" stroke-width="0.45" />
<line x1="371.8" y1="96.2" x2="350.3" y2="114.2" stroke="#7aa0b0" stroke-width="0.45" />
<line x1="375.21" y1="99.01" x2="363.5" y2="120.3" stroke="#7aa0b0" stroke-width="0.45" />
<line x1="378.07" y1="100.14" x2="369.2" y2="135.4" stroke="#7aa0b0" stroke-width="0.45" />
<line x1="379.62" y1="100.42" x2="378.2" y2="112.6" stroke="#7aa0b0" stroke-width="0.45" />
<line x1="379.74" y1="100.43" x2="378" y2="117" stroke="#7aa0b0" stroke-width="0.45" />
<line x1="379.84" y1="100.44" x2="377.7" y2="122.6" stroke="#7aa0b0" stroke-width="0.45" />
<line x1="373.63" y1="97.97" x2="356.8" y2="119.6" stroke="#7aa0b0" stroke-width="0.45" />
<line x1="373.86" y1="98.15" x2="354" y2="125" stroke="#7aa0b0" stroke-width="0.45" />
<line x1="373.7" y1="98.03" x2="350.6" y2="128.2" stroke="#7aa0b0" stroke-width="0.45" />
<line x1="374.54" y1="98.62" x2="358.6" y2="123.6" stroke="#7aa0b0" stroke-width="0.45" />
<line x1="377.44" y1="99.96" x2="366.2" y2="136.2" stroke="#7aa0b0" stroke-width="0.45" />
<line x1="377.17" y1="99.87" x2="363.6" y2="140.2" stroke="#7aa0b0" stroke-width="0.45" />
<line x1="378.26" y1="100.18" x2="370.2" y2="134.6" stroke="#7aa0b0" stroke-width="0.45" />
<line x1="378.89" y1="100.31" x2="372.4" y2="136.6" stroke="#7aa0b0" stroke-width="0.45" />
<line x1="375.34" y1="99.08" x2="349.2" y2="148" stroke="#7aa0b0" stroke-width="0.45" />
<line x1="375.33" y1="99.08" x2="351.6" y2="143.4" stroke="#7aa0b0" stroke-width="0.45" />
<line x1="375.81" y1="99.32" x2="353.4" y2="146" stroke="#7aa0b0" stroke-width="0.45" />
<line x1="373.1" y1="97.53" x2="338.6" y2="137" stroke="#7aa0b0" stroke-width="0.45" />
<line x1="373.25" y1="97.67" x2="341.2" y2="135.6" stroke="#7aa0b0" stroke-width="0.45" />
<line x1="372.65" y1="97.11" x2="333" y2="138" stroke="#7aa0b0" stroke-width="0.45" />
<line x1="372.43" y1="96.9" x2="327" y2="141.4" stroke="#7aa0b0" stroke-width="0.45" />
<circle cx="378.8" cy="51" r="2" fill="#961c2a" stroke="#8e1620" stroke-width="0.5"/>
<circle cx="429" cy="42.7" r="2" fill="#961c2a" stroke="#8e1620" stroke-width="0.5"/>
<circle cx="433.8" cy="58.7" r="2" fill="#961c2a" stroke="#8e1620" stroke-width="0.5"/>
<circle cx="421" cy="68.3" r="2" fill="#961c2a" stroke="#8e1620" stroke-width="0.5"/>
<circle cx="431.5" cy="66.3" r="2" fill="#961c2a" stroke="#8e1620" stroke-width="0.5"/>
<circle cx="437.7" cy="66.9" r="2.7" fill="#c61f29" stroke="#8e1620" stroke-width="0.5"/>
<circle cx="441.5" cy="66.3" r="3.5" fill="#c61f29" stroke="#8e1620" stroke-width="0.5"/>
<circle cx="439.5" cy="67.5" r="2.8" fill="#c61f29" stroke="#8e1620" stroke-width="0.5"/>
<circle cx="459.2" cy="68.3" r="2" fill="#961c2a" stroke="#8e1620" stroke-width="0.5"/>
<circle cx="411.7" cy="87" r="2" fill="#961c2a" stroke="#8e1620" stroke-width="0.5"/>
<circle cx="325" cy="83.7" r="2" fill="#961c2a" stroke="#8e1620" stroke-width="0.5"/>
<circle cx="350.3" cy="114.2" r="1.8" fill="#961c2a" stroke="#8e1620" stroke-width="0.5"/>
<circle cx="363.5" cy="120.3" r="1.5" fill="#961c2a" stroke="#8e1620" stroke-width="0.5"/>
<circle cx="369.2" cy="135.4" r="1.8" fill="#961c2a" stroke="#8e1620" stroke-width="0.5"/>
<circle cx="378.2" cy="112.6" r="4.2" fill="#c61f29" stroke="#8e1620" stroke-width="0.5"/>
<circle cx="378" cy="117" r="4.0" fill="#c61f29" stroke="#8e1620" stroke-width="0.5"/>
<circle cx="377.7" cy="122.6" r="4.5" fill="#c61f29" stroke="#8e1620" stroke-width="0.5"/>
<circle cx="356.8" cy="119.6" r="4.3" fill="#c61f29" stroke="#8e1620" stroke-width="0.5"/>
<circle cx="354" cy="125" r="3.4" fill="#c61f29" stroke="#8e1620" stroke-width="0.5"/>
<circle cx="350.6" cy="128.2" r="3.6" fill="#c61f29" stroke="#8e1620" stroke-width="0.5"/>
<circle cx="358.6" cy="123.6" r="3.0" fill="#c61f29" stroke="#8e1620" stroke-width="0.5"/>
<circle cx="366.2" cy="136.2" r="4.0" fill="#c61f29" stroke="#8e1620" stroke-width="0.5"/>
<circle cx="363.6" cy="140.2" r="3.6" fill="#c61f29" stroke="#8e1620" stroke-width="0.5"/>
<circle cx="370.2" cy="134.6" r="2.6" fill="#c61f29" stroke="#8e1620" stroke-width="0.5"/>
<circle cx="372.4" cy="136.6" r="2.0" fill="#961c2a" stroke="#8e1620" stroke-width="0.5"/>
<circle cx="349.2" cy="148" r="4.5" fill="#c61f29" stroke="#8e1620" stroke-width="0.5"/>
<circle cx="351.6" cy="143.4" r="3.0" fill="#c61f29" stroke="#8e1620" stroke-width="0.5"/>
<circle cx="353.4" cy="146" r="2.8" fill="#c61f29" stroke="#8e1620" stroke-width="0.5"/>
<circle cx="338.6" cy="137" r="3.0" fill="#c61f29" stroke="#8e1620" stroke-width="0.5"/>
<circle cx="341.2" cy="135.6" r="2.4" fill="#961c2a" stroke="#8e1620" stroke-width="0.5"/>
<circle cx="333" cy="138" r="1.7" fill="#961c2a" stroke="#8e1620" stroke-width="0.5"/>
<circle cx="327" cy="141.4" r="1.5" fill="#961c2a" stroke="#8e1620" stroke-width="0.5"/>
<text x="329.4" y="26.4" font-size="4.7" text-anchor="middle" font-weight="normal" fill="#666" >TK</text>
<text x="400.2" y="10.9" font-size="4.7" text-anchor="middle" font-weight="normal" fill="#666" >TKL</text>
<text x="440.6" y="36.3" font-size="4.7" text-anchor="middle" font-weight="normal" fill="#777" >STE</text>
<text x="457" y="62.9" font-size="4.7" text-anchor="middle" font-weight="normal" fill="#3a9aaa" >CK1</text>
<text x="459.8" y="106.3" font-size="4.7" text-anchor="middle" font-weight="normal" fill="#666" >AGC</text>
<text x="409.8" y="166.5" font-size="4.7" text-anchor="middle" font-weight="normal" fill="#8a8a58" >CAMK</text>
<text x="342.3" y="161.9" font-size="4.7" text-anchor="middle" font-weight="normal" fill="#5a6a88" >CMGC</text>
<text x="306.2" y="107.2" font-size="4.7" text-anchor="middle" font-weight="normal" fill="#8aa6c2" >OTHER</text>
<text x="472.7" y="176.4" font-size="6.7" text-anchor="middle" font-weight="normal" fill="#222" >Percent control</text>
<circle cx="460.3" cy="184.2" r="5.4" fill="#cf2630" stroke="#8e1620" stroke-width="0.4"/>
<text x="493" y="186.5" font-size="6.6" text-anchor="end" font-weight="normal" fill="#222" >0%</text>
<circle cx="460.3" cy="195.8" r="4.3" fill="#cf2630" stroke="#8e1620" stroke-width="0.4"/>
<text x="493" y="198.1" font-size="6.6" text-anchor="end" font-weight="normal" fill="#222" >0.1%</text>
<circle cx="460.3" cy="206.2" r="3.5" fill="#cf2630" stroke="#8e1620" stroke-width="0.4"/>
<text x="493" y="208.5" font-size="6.6" text-anchor="end" font-weight="normal" fill="#222" >0.1–1%</text>
<circle cx="460.3" cy="215.8" r="2.3" fill="#cf2630" stroke="#8e1620" stroke-width="0.4"/>
<text x="493" y="218.1" font-size="6.6" text-anchor="end" font-weight="normal" fill="#222" >1–5%</text>
<circle cx="460.3" cy="223.8" r="1.5" fill="#a01e2a" stroke="#8e1620" stroke-width="0.4"/>
<text x="493" y="226.1" font-size="6.6" text-anchor="end" font-weight="normal" fill="#222" >5–10%</text>
<circle cx="460.3" cy="230.4" r="0.9" fill="#a01e2a" stroke="#8e1620" stroke-width="0.4"/>
<text x="493" y="232.7" font-size="6.6" text-anchor="end" font-weight="normal" fill="#222" >10–35%</text>
<circle cx="460.3" cy="236.2" r="0.6" fill="#ccc"/>
<text x="493" y="238.5" font-size="6.6" text-anchor="end" font-weight="normal" fill="#222" >&gt;35%</text>
<path d="M333.64,195.06 L334.97,196.22 L336.25,197.44 L337.47,198.7 L338.65,200.02 L339.77,201.38 L340.83,202.79 L341.84,204.24 L342.78,205.72 L343.66,207.25 L344.48,208.81 L345.24,210.41 L345.92,212.03 L346.55,213.68 L347.1,215.36 L347.58,217.05 L348,218.77 L348.34,220.5 L348.61,222.24 L348.81,223.99 L348.94,225.75 L349,227.51 L348.98,229.28 L348.89,231.04 L348.73,232.79 L348.5,234.54 L348.2,236.28 L347.82,238 L347.38,239.71 L346.86,241.39 L346.28,243.06 L345.63,244.7 L344.91,246.31 L344.12,247.89 L343.28,249.43 L342.37,250.95 L341.39,252.42 L340.36,253.85 L339.28,255.24 L338.13,256.58 L336.93,257.87 L312,233.79 L312,220.85 Z" fill="#ebebeb"/>
<line x1="312" y1="221.29" x2="333.42" y2="197.34" stroke="#c6c6c6" stroke-width="0.35" />
<line x1="312" y1="222.09" x2="335.04" y2="199.38" stroke="#c6c6c6" stroke-width="0.35" />
<line x1="312" y1="222.79" x2="336.67" y2="201.38" stroke="#c6c6c6" stroke-width="0.35" />
<line x1="312" y1="223.42" x2="337.94" y2="203.63" stroke="#c6c6c6" stroke-width="0.35" />
<line x1="312" y1="223.99" x2="339.92" y2="205.36" stroke="#c6c6c6" stroke-width="0.35" />
<line x1="312" y1="224.52" x2="340.8" y2="207.81" stroke="#c6c6c6" stroke-width="0.35" />
<line x1="312" y1="225.01" x2="344.4" y2="208.85" stroke="#c6c6c6" stroke-width="0.35" />
<line x1="312" y1="225.47" x2="344.33" y2="211.82" stroke="#c6c6c6" stroke-width="0.35" />
<line x1="312" y1="225.9" x2="343.92" y2="214.74" stroke="#c6c6c6" stroke-width="0.35" />
<line x1="312" y1="226.32" x2="345.53" y2="216.92" stroke="#c6c6c6" stroke-width="0.35" />
<line x1="312" y1="226.72" x2="345.41" y2="219.6" stroke="#c6c6c6" stroke-width="0.35" />
<line x1="312" y1="227.11" x2="348.2" y2="221.75" stroke="#c6c6c6" stroke-width="0.35" />
<line x1="312" y1="227.5" x2="347.45" y2="224.51" stroke="#c6c6c6" stroke-width="0.35" />
<line x1="312" y1="227.88" x2="348.25" y2="227.12" stroke="#c6c6c6" stroke-width="0.35" />
<line x1="312" y1="228.25" x2="347.33" y2="229.75" stroke="#c6c6c6" stroke-width="0.35" />
<line x1="312" y1="228.63" x2="347.05" y2="232.34" stroke="#c6c6c6" stroke-width="0.35" />
<line x1="312" y1="229.02" x2="348.35" y2="235.2" stroke="#c6c6c6" stroke-width="0.35" />
<line x1="312" y1="229.41" x2="347.22" y2="237.72" stroke="#c6c6c6" stroke-width="0.35" />
<line x1="312" y1="229.82" x2="346.34" y2="240.25" stroke="#c6c6c6" stroke-width="0.35" />
<line x1="312" y1="230.24" x2="343.7" y2="242.1" stroke="#c6c6c6" stroke-width="0.35" />
<line x1="312" y1="230.69" x2="343.15" y2="244.63" stroke="#c6c6c6" stroke-width="0.35" />
<line x1="312" y1="231.15" x2="343.64" y2="247.79" stroke="#c6c6c6" stroke-width="0.35" />
<line x1="312" y1="231.65" x2="340.68" y2="249.12" stroke="#c6c6c6" stroke-width="0.35" />
<line x1="312" y1="232.2" x2="340.9" y2="252.4" stroke="#c6c6c6" stroke-width="0.35" />
<line x1="312" y1="232.79" x2="338.17" y2="253.66" stroke="#c6c6c6" stroke-width="0.35" />
<line x1="312" y1="233.44" x2="337.58" y2="256.62" stroke="#c6c6c6" stroke-width="0.35" />
<line x1="312" y1="222.6" x2="336.47" y2="200.57" stroke="#666" stroke-width="0.5" />
<line x1="316.06" y1="221.46" x2="340.39" y2="205.67" stroke="#666" stroke-width="0.5" />
<line x1="312" y1="225.33" x2="326.1" y2="219.05" stroke="#777" stroke-width="0.45" />
<line x1="312" y1="228.95" x2="347.48" y2="234.57" stroke="#666" stroke-width="0.5" />
<line x1="312" y1="229.39" x2="346.92" y2="237.45" stroke="#777" stroke-width="0.5" />
<line x1="325.13" y1="233.85" x2="346.16" y2="240.28" stroke="#888" stroke-width="0.45" />
<circle cx="338.5" cy="205.5" r="0.7" fill="#555"/>
<circle cx="341.5" cy="209.4" r="0.7" fill="#555"/>
<circle cx="347" cy="241.5" r="0.7" fill="#555"/>
<circle cx="346.5" cy="237.5" r="0.7" fill="#555"/>
<path d="M373.08,208.39 L378.09,206.93 L383.1,206.02 L388.06,205.65 L392.77,204.97 L397.46,204.57 L402.14,204.64 L406.78,205.17 L411.24,206.49 L415.33,208.76 L419.06,211.37 L422.43,214.3 L425.39,217.48 L428.08,220.7 L430.38,224.11 L432.28,227.66 L433.76,231.3 L435.09,234.87 L436.26,238.41 L437.07,242.01 L437.51,245.63 L437.59,249.25 L437.49,252.82 L437.69,256.42 L437.52,260.07 L436.98,263.73 L436.06,267.36 L435.09,271.1 L433.79,274.85 L432.06,278.51 L429.93,282.06 L427.38,285.44 L424.45,288.6 L421.14,291.5 L417.47,294.09 L413.49,296.34 L409.1,297.55 L404.6,298.28 L400.02,298.58 L395.41,298.41 L390.83,297.8 L399.49,260.28 L400.31,260.43 L401.15,260.5 L401.99,260.48 L402.82,260.38 L403.64,260.2 L404.43,259.94 L405.2,259.6 L405.93,259.19 L406.62,258.71 L407.25,258.17 L407.83,257.56 L408.35,256.9 L408.79,256.19 L409.17,255.44 L409.47,254.66 L409.7,253.85 L409.84,253.03 L409.9,252.19 L409.88,251.36 L409.77,250.52 L409.58,249.71 L409.32,248.91 L408.98,248.15 L408.56,247.42 L408.08,246.74 L407.52,246.11 L406.91,245.53 L406.25,245.02 L405.54,244.58 L404.79,244.2 L404.01,243.91 L403.2,243.69 L402.37,243.56 L401.53,243.5 L400.7,243.53 L399.87,243.64 L399.05,243.83 L398.26,244.1 L397.49,244.45 L396.77,244.87 Z" fill="#e8e8e8"/>
<line x1="397.13" y1="244.65" x2="376.85" y2="209.77" stroke="#c0c0c0" stroke-width="0.35" />
<line x1="397.87" y1="244.27" x2="381.91" y2="209.27" stroke="#c0c0c0" stroke-width="0.35" />
<line x1="398.65" y1="243.96" x2="385.73" y2="206.17" stroke="#c0c0c0" stroke-width="0.35" />
<line x1="399.46" y1="243.73" x2="390.83" y2="207.03" stroke="#c0c0c0" stroke-width="0.35" />
<line x1="400.28" y1="243.57" x2="395.19" y2="205.31" stroke="#c0c0c0" stroke-width="0.35" />
<line x1="401.11" y1="243.5" x2="399.92" y2="207.93" stroke="#c0c0c0" stroke-width="0.35" />
<line x1="401.95" y1="243.52" x2="404.39" y2="206.03" stroke="#c0c0c0" stroke-width="0.35" />
<line x1="402.78" y1="243.61" x2="408.76" y2="207.39" stroke="#c0c0c0" stroke-width="0.35" />
<line x1="403.6" y1="243.79" x2="412.29" y2="211.44" stroke="#c0c0c0" stroke-width="0.35" />
<line x1="404.4" y1="244.05" x2="416.04" y2="213.21" stroke="#c0c0c0" stroke-width="0.35" />
<line x1="405.17" y1="244.38" x2="419.06" y2="216.3" stroke="#c0c0c0" stroke-width="0.35" />
<line x1="405.9" y1="244.79" x2="423" y2="217.4" stroke="#c0c0c0" stroke-width="0.35" />
<line x1="406.59" y1="245.27" x2="425.59" y2="220.61" stroke="#c0c0c0" stroke-width="0.35" />
<line x1="407.23" y1="245.81" x2="427.28" y2="224.51" stroke="#c0c0c0" stroke-width="0.35" />
<line x1="407.81" y1="246.42" x2="429.94" y2="227.13" stroke="#c0c0c0" stroke-width="0.35" />
<line x1="408.33" y1="247.07" x2="432.12" y2="230.15" stroke="#c0c0c0" stroke-width="0.35" />
<line x1="408.78" y1="247.78" x2="432.97" y2="233.94" stroke="#c0c0c0" stroke-width="0.35" />
<line x1="409.16" y1="248.53" x2="435.19" y2="236.87" stroke="#c0c0c0" stroke-width="0.35" />
<line x1="409.46" y1="249.31" x2="435.28" y2="240.68" stroke="#c0c0c0" stroke-width="0.35" />
<line x1="409.69" y1="250.11" x2="433.48" y2="244.7" stroke="#c0c0c0" stroke-width="0.35" />
<line x1="409.83" y1="250.94" x2="433.78" y2="247.92" stroke="#c0c0c0" stroke-width="0.35" />
<line x1="409.9" y1="251.77" x2="434.98" y2="251.11" stroke="#c0c0c0" stroke-width="0.35" />
<line x1="409.88" y1="252.61" x2="435.64" y2="254.47" stroke="#c0c0c0" stroke-width="0.35" />
<line x1="409.78" y1="253.44" x2="436.31" y2="258.01" stroke="#c0c0c0" stroke-width="0.35" />
<line x1="409.59" y1="254.26" x2="436.95" y2="261.81" stroke="#c0c0c0" stroke-width="0.35" />
<line x1="409.33" y1="255.06" x2="435.55" y2="265.16" stroke="#c0c0c0" stroke-width="0.35" />
<line x1="408.99" y1="255.82" x2="432.79" y2="267.81" stroke="#c0c0c0" stroke-width="0.35" />
<line x1="408.58" y1="256.55" x2="431.56" y2="271.12" stroke="#c0c0c0" stroke-width="0.35" />
<line x1="408.1" y1="257.24" x2="431.84" y2="275.8" stroke="#c0c0c0" stroke-width="0.35" />
<line x1="407.55" y1="257.87" x2="428.77" y2="278.13" stroke="#c0c0c0" stroke-width="0.35" />
<line x1="406.94" y1="258.45" x2="426.68" y2="281.42" stroke="#c0c0c0" stroke-width="0.35" />
<line x1="406.28" y1="258.96" x2="424.37" y2="284.77" stroke="#c0c0c0" stroke-width="0.35" />
<line x1="405.57" y1="259.41" x2="421.53" y2="287.77" stroke="#c0c0c0" stroke-width="0.35" />
<line x1="404.82" y1="259.78" x2="418.12" y2="290.05" stroke="#c0c0c0" stroke-width="0.35" />
<line x1="404.04" y1="260.08" x2="415.07" y2="293.88" stroke="#c0c0c0" stroke-width="0.35" />
<line x1="403.23" y1="260.3" x2="410.71" y2="294.26" stroke="#c0c0c0" stroke-width="0.35" />
<line x1="402.4" y1="260.44" x2="406.73" y2="296.85" stroke="#c0c0c0" stroke-width="0.35" />
<line x1="401.57" y1="260.5" x2="402.27" y2="296.54" stroke="#c0c0c0" stroke-width="0.35" />
<line x1="400.73" y1="260.47" x2="397.96" y2="295.48" stroke="#c0c0c0" stroke-width="0.35" />
<line x1="399.9" y1="260.37" x2="393.6" y2="295.44" stroke="#c0c0c0" stroke-width="0.35" />
<line x1="391.55" y1="234.07" x2="377.11" y2="207.8" stroke="#505050" stroke-width="0.4" />
<line x1="393.68" y1="231.62" x2="384.87" y2="208.37" stroke="#505050" stroke-width="0.4" />
<line x1="396.51" y1="231.03" x2="390.88" y2="206.9" stroke="#505050" stroke-width="0.4" />
<line x1="400.41" y1="239.58" x2="397.84" y2="207.38" stroke="#505050" stroke-width="0.4" />
<line x1="402.48" y1="230.43" x2="403.63" y2="207.45" stroke="#505050" stroke-width="0.4" />
<line x1="403.67" y1="237.85" x2="408.76" y2="206.05" stroke="#505050" stroke-width="0.4" />
<line x1="404.38" y1="241.64" x2="413.8" y2="208.86" stroke="#505050" stroke-width="0.4" />
<line x1="405.61" y1="242.89" x2="419.03" y2="213.87" stroke="#505050" stroke-width="0.4" />
<line x1="408.55" y1="240.29" x2="422.38" y2="217.64" stroke="#505050" stroke-width="0.4" />
<line x1="410.12" y1="241.32" x2="426.63" y2="221.12" stroke="#505050" stroke-width="0.4" />
<line x1="409.25" y1="244.76" x2="428.67" y2="226.84" stroke="#505050" stroke-width="0.4" />
<line x1="416.51" y1="240.48" x2="430.53" y2="229.78" stroke="#505050" stroke-width="0.4" />
<line x1="418.26" y1="242.29" x2="433.37" y2="233.58" stroke="#505050" stroke-width="0.4" />
<line x1="410.85" y1="248.4" x2="436.21" y2="238.73" stroke="#505050" stroke-width="0.4" />
<line x1="422.16" y1="246.57" x2="436.6" y2="242.79" stroke="#505050" stroke-width="0.4" />
<line x1="422.46" y1="249.96" x2="434.79" y2="248.77" stroke="#505050" stroke-width="0.4" />
<line x1="415.66" y1="252.16" x2="435.87" y2="252.38" stroke="#505050" stroke-width="0.4" />
<line x1="412.55" y1="253.83" x2="435.44" y2="257.59" stroke="#505050" stroke-width="0.4" />
<line x1="420.85" y1="257.87" x2="437.05" y2="262.76" stroke="#505050" stroke-width="0.4" />
<line x1="411.48" y1="256.62" x2="434.99" y2="267.4" stroke="#505050" stroke-width="0.4" />
<line x1="419.41" y1="262.83" x2="433.91" y2="271.56" stroke="#505050" stroke-width="0.4" />
<line x1="414.19" y1="262.49" x2="431.83" y2="276.97" stroke="#505050" stroke-width="0.4" />
<line x1="409.98" y1="260.57" x2="430.39" y2="280.94" stroke="#505050" stroke-width="0.4" />
<line x1="412.69" y1="266.37" x2="425.68" y2="282.91" stroke="#505050" stroke-width="0.4" />
<line x1="406.81" y1="261.1" x2="422.1" y2="286.84" stroke="#505050" stroke-width="0.4" />
<line x1="407.02" y1="265.77" x2="418.08" y2="292.86" stroke="#505050" stroke-width="0.4" />
<line x1="406.43" y1="271.27" x2="412.67" y2="295.2" stroke="#505050" stroke-width="0.4" />
<line x1="402.84" y1="262.57" x2="407.26" y2="295.12" stroke="#505050" stroke-width="0.4" />
<line x1="401.82" y1="267.92" x2="402.55" y2="295.95" stroke="#505050" stroke-width="0.4" />
<line x1="399.37" y1="270.67" x2="396.66" y2="295.65" stroke="#505050" stroke-width="0.4" />
<path d="M373.08,208.39 L376.41,207.35 L379.76,206.56 L383.1,206.02 L386.42,205.71 L389.66,205.49 L392.77,204.97 L395.89,204.65 L399.02,204.54 L402.14,204.64 L405.24,204.94 L408.3,205.45 L411.24,206.49 L414,207.96 L416.61,209.59 L419.06,211.37 L421.35,213.29 L423.46,215.33 L425.39,217.48 L427.23,219.61 L428.89,221.82 L430.38,224.11 L431.69,226.46 L432.82,228.86 L433.76,231.3 L434.62,233.71 L435.52,236.04 L436.26,238.41 L436.84,240.8 L437.26,243.21 L437.51,245.63 L437.6,248.05 L437.53,250.44 L437.49,252.82 L437.66,255.22 L437.67,257.64 L437.52,260.07 L437.2,262.51 L436.71,264.95 L436.06,267.36 L435.43,269.84 L434.7,272.35 L433.79,274.85 L432.68,277.3 L431.4,279.71 L429.93,282.06 L428.27,284.33 L426.45,286.52 L424.45,288.6 L422.28,290.56 L419.95,292.4 L417.47,294.09 L414.85,295.63 L412.05,296.81 L409.1,297.55 L406.11,298.09 L403.08,298.43 L400.02,298.58 L396.95,298.52 L393.88,298.26 L390.83,297.8" fill="none" stroke="#8a8a8a" stroke-width="0.5"/>
<path d="M396.08,236.54 A16.35,16.35 0 0 1 401.11,235.65" fill="none" stroke="#555" stroke-width="0.4"/>
<path d="M405.51,230.83 A21.56,21.56 0 0 1 411.85,233.14" fill="none" stroke="#555" stroke-width="0.4"/>
<path d="M413.99,237.51 A19.2,19.2 0 0 1 417.86,242.11" fill="none" stroke="#555" stroke-width="0.4"/>
<path d="M419.03,245.93 A18.65,18.65 0 0 1 420.04,251.67" fill="none" stroke="#555" stroke-width="0.4"/>
<path d="M415.23,254.69 A14.09,14.09 0 0 1 413.73,258.83" fill="none" stroke="#555" stroke-width="0.4"/>
<path d="M415.27,264.06 A18.38,18.38 0 0 1 410.86,267.75" fill="none" stroke="#555" stroke-width="0.4"/>
<path d="M406.61,267.13 A16.01,16.01 0 0 1 401.68,268" fill="none" stroke="#555" stroke-width="0.4"/>
<circle cx="427.4" cy="259.2" r="1.9" fill="#c8242c" stroke="#8a1420" stroke-width="0.35"/>
<circle cx="421.3" cy="257.9" r="0.8" fill="#7fb89a"/>
<path d="M338.99,268.07 L339.6,269 L340.18,269.94 L340.74,270.9 L341.27,271.88 L341.77,272.87 L342.25,273.87 L342.7,274.88 L343.12,275.91 L343.52,276.94 L343.88,277.99 L344.22,279.05 L344.53,280.11 L344.81,281.19 L345.06,282.27 L345.28,283.35 L345.47,284.44 L345.64,285.54 L345.77,286.64 L345.87,287.75 L345.94,288.85 L345.99,289.96 L346,291.07 L345.98,292.18 L345.94,293.29 L345.86,294.4 L345.75,295.5 L345.62,296.6 L345.45,297.7 L345.25,298.79 L345.03,299.87 L344.77,300.95 L344.49,302.03 L344.18,303.09 L343.84,304.15 L343.47,305.19 L343.07,306.23 L342.64,307.25 L342.19,308.26 L341.71,309.26 L341.2,310.25 L312.5,294.99 L312.5,285.94 Z" fill="#ebebeb"/>
<line x1="312.5" y1="286.21" x2="337.85" y2="270" stroke="#c8c8c8" stroke-width="0.35" />
<line x1="312.5" y1="286.71" x2="339.38" y2="271.33" stroke="#c8c8c8" stroke-width="0.35" />
<line x1="312.5" y1="287.19" x2="339.36" y2="273.53" stroke="#c8c8c8" stroke-width="0.35" />
<line x1="312.5" y1="287.64" x2="340.64" y2="275.03" stroke="#c8c8c8" stroke-width="0.35" />
<line x1="312.5" y1="288.07" x2="340.97" y2="276.96" stroke="#c8c8c8" stroke-width="0.35" />
<line x1="312.5" y1="288.49" x2="342.89" y2="278.32" stroke="#c8c8c8" stroke-width="0.35" />
<line x1="312.5" y1="288.89" x2="342.61" y2="280.44" stroke="#c8c8c8" stroke-width="0.35" />
<line x1="312.5" y1="289.29" x2="342.81" y2="282.36" stroke="#c8c8c8" stroke-width="0.35" />
<line x1="312.5" y1="289.67" x2="342.92" y2="284.28" stroke="#c8c8c8" stroke-width="0.35" />
<line x1="312.5" y1="290.05" x2="344.63" y2="285.97" stroke="#c8c8c8" stroke-width="0.35" />
<line x1="312.5" y1="290.42" x2="343.36" y2="288.04" stroke="#c8c8c8" stroke-width="0.35" />
<line x1="312.5" y1="290.79" x2="343.38" y2="289.93" stroke="#c8c8c8" stroke-width="0.35" />
<line x1="312.5" y1="291.16" x2="343.93" y2="291.83" stroke="#c8c8c8" stroke-width="0.35" />
<line x1="312.5" y1="291.53" x2="342.98" y2="293.69" stroke="#c8c8c8" stroke-width="0.35" />
<line x1="312.5" y1="291.9" x2="342.86" y2="295.56" stroke="#c8c8c8" stroke-width="0.35" />
<line x1="312.5" y1="292.28" x2="343.88" y2="297.63" stroke="#c8c8c8" stroke-width="0.35" />
<line x1="312.5" y1="292.66" x2="343.48" y2="299.53" stroke="#c8c8c8" stroke-width="0.35" />
<line x1="312.5" y1="293.05" x2="344.06" y2="301.7" stroke="#c8c8c8" stroke-width="0.35" />
<line x1="312.5" y1="293.46" x2="341.58" y2="302.98" stroke="#c8c8c8" stroke-width="0.35" />
<line x1="312.5" y1="293.87" x2="340.66" y2="304.66" stroke="#c8c8c8" stroke-width="0.35" />
<line x1="312.5" y1="294.3" x2="341.21" y2="306.95" stroke="#c8c8c8" stroke-width="0.35" />
<line x1="312.5" y1="294.75" x2="339.81" y2="308.42" stroke="#c8c8c8" stroke-width="0.35" />
<line x1="317.16" y1="284.07" x2="338.45" y2="271.94" stroke="#555" stroke-width="0.45" />
<line x1="312.5" y1="287.82" x2="340.44" y2="275.96" stroke="#555" stroke-width="0.45" />
<line x1="318.43" y1="287.06" x2="341.95" y2="280.17" stroke="#555" stroke-width="0.45" />
<line x1="312.5" y1="289.72" x2="342.95" y2="284.54" stroke="#555" stroke-width="0.45" />
<line x1="318.98" y1="290.27" x2="343.45" y2="288.99" stroke="#555" stroke-width="0.45" />
<line x1="312.5" y1="291.48" x2="343.42" y2="293.46" stroke="#555" stroke-width="0.45" />
<line x1="318.77" y1="293.51" x2="342.88" y2="297.91" stroke="#555" stroke-width="0.45" />
<line x1="312.5" y1="293.29" x2="341.82" y2="302.26" stroke="#555" stroke-width="0.45" />
<line x1="317.82" y1="296.62" x2="340.26" y2="306.45" stroke="#555" stroke-width="0.45" />
<line x1="312.7" y1="326.8" x2="345" y2="326.8" stroke="#999" stroke-width="0.6" />
<line x1="312.7" y1="325.4" x2="332" y2="325.4" stroke="#bbb" stroke-width="0.5" />
<line x1="332" y1="325.4" x2="335" y2="324.2" stroke="#888" stroke-width="0.5" />
<line x1="335" y1="324.2" x2="345" y2="324.6" stroke="#aaa" stroke-width="0.5" />
<text x="330.8" y="186" font-size="5" text-anchor="middle" font-weight="normal" fill="#5b7aa3" >ATYPICAL</text>
<text x="414" y="185.5" font-size="5" text-anchor="middle" font-weight="normal" fill="#5b7aa3" >MUTANT</text>
<text x="324.2" y="264.4" font-size="5" text-anchor="middle" font-weight="normal" fill="#5b7aa3" >LIPID</text>
<text x="332.3" y="320" font-size="5" text-anchor="middle" font-weight="normal" fill="#5b7aa3" >PATHOGEN</text>
<rect x="45.8" y="432.2" width="156.8" height="25.9" fill="#d5f0cc"/>
<rect x="45.8" y="458.1" width="156.8" height="25.9" fill="#fcdcbc"/>
<rect x="48.1" y="458.1" width="7" height="25.9" fill="#8b6645"/>
<rect x="48.1" y="432.2" width="7" height="25.9" fill="#4b7e4f"/>
<rect x="48.1" y="397.1" width="7" height="35.1" fill="#5f5f5f"/>
<rect x="59.3" y="458.1" width="7" height="25.9" fill="#8b6645"/>
<rect x="59.3" y="432.2" width="7" height="25.9" fill="#4b7e4f"/>
<rect x="59.3" y="397.9" width="7" height="34.3" fill="#5f5f5f"/>
<rect x="70.5" y="458.1" width="7" height="25.9" fill="#8b6645"/>
<rect x="70.5" y="432.2" width="7" height="25.9" fill="#4b7e4f"/>
<rect x="70.5" y="400.7" width="7" height="31.5" fill="#5f5f5f"/>
<rect x="81.7" y="458.1" width="7" height="25.9" fill="#8b6645"/>
<rect x="81.7" y="432.2" width="7" height="25.9" fill="#4b7e4f"/>
<rect x="81.7" y="402.8" width="7" height="29.4" fill="#5f5f5f"/>
<rect x="92.9" y="458.1" width="7" height="25.9" fill="#8b6645"/>
<rect x="92.9" y="432.2" width="7" height="25.9" fill="#4b7e4f"/>
<rect x="92.9" y="409.8" width="7" height="22.4" fill="#5f5f5f"/>
<rect x="104.1" y="458.1" width="7" height="25.9" fill="#8b6645"/>
<rect x="104.1" y="432.2" width="7" height="25.9" fill="#4b7e4f"/>
<rect x="104.1" y="418.2" width="7" height="14" fill="#5f5f5f"/>
<rect x="115.3" y="458.1" width="7" height="25.9" fill="#8b6645"/>
<rect x="115.3" y="432.2" width="7" height="25.9" fill="#4b7e4f"/>
<rect x="115.3" y="418.7" width="7" height="13.5" fill="#5f5f5f"/>
<rect x="126.5" y="458.1" width="7" height="25.9" fill="#8b6645"/>
<rect x="126.5" y="432.2" width="7" height="25.9" fill="#4b7e4f"/>
<rect x="126.5" y="429.7" width="7" height="2.5" fill="#5f5f5f"/>
<rect x="137.7" y="458.1" width="7" height="25.9" fill="#8b6645"/>
<rect x="137.7" y="433.8" width="7" height="24.3" fill="#4b7e4f"/>
<rect x="148.9" y="458.1" width="7" height="25.9" fill="#8b6645"/>
<rect x="148.9" y="438" width="7" height="20.1" fill="#4b7e4f"/>
<rect x="160.1" y="458.1" width="7" height="25.9" fill="#8b6645"/>
<rect x="160.1" y="440.8" width="7" height="17.3" fill="#4b7e4f"/>
<rect x="171.3" y="458.1" width="7" height="25.9" fill="#8b6645"/>
<rect x="171.3" y="446" width="7" height="12.1" fill="#4b7e4f"/>
<rect x="182.5" y="458.1" width="7" height="25.9" fill="#8b6645"/>
<rect x="182.5" y="455.3" width="7" height="2.8" fill="#4b7e4f"/>
<rect x="193.7" y="463.8" width="7" height="20.2" fill="#8b6645"/>
<line x1="134.5" y1="432.2" x2="202.6" y2="432.2" stroke="#333" stroke-width="0.7" stroke-dasharray="1 1"/>
<line x1="45.8" y1="458.1" x2="202.6" y2="458.1" stroke="#3a3a2a" stroke-width="0.7" stroke-dasharray="1 1"/>
<line x1="45.8" y1="379.9" x2="45.8" y2="484.4" stroke="#222" stroke-width="0.9" />
<line x1="45.4" y1="484" x2="202.6" y2="484" stroke="#222" stroke-width="0.9" />
<line x1="43.2" y1="380.4" x2="45.8" y2="380.4" stroke="#222" stroke-width="0.8" />
<text x="42.4" y="382.4" font-size="5.6" text-anchor="end" font-weight="bold" fill="#222" >10,000</text>
<line x1="43.2" y1="406.3" x2="45.8" y2="406.3" stroke="#222" stroke-width="0.8" />
<text x="42.4" y="408.3" font-size="5.6" text-anchor="end" font-weight="bold" fill="#222" >1,000</text>
<line x1="43.2" y1="432.2" x2="45.8" y2="432.2" stroke="#222" stroke-width="0.8" />
<text x="42.4" y="434.2" font-size="5.6" text-anchor="end" font-weight="bold" fill="#222" >100</text>
<line x1="43.2" y1="458.1" x2="45.8" y2="458.1" stroke="#222" stroke-width="0.8" />
<text x="42.4" y="460.1" font-size="5.6" text-anchor="end" font-weight="bold" fill="#222" >10</text>
<line x1="43.2" y1="484" x2="45.8" y2="484" stroke="#222" stroke-width="0.8" />
<text x="42.4" y="486" font-size="5.6" text-anchor="end" font-weight="bold" fill="#222" >1</text>
<line x1="51.6" y1="484" x2="51.6" y2="485.8" stroke="#222" stroke-width="0.7" />
<text x="52.8" y="488.2" font-size="3.6" font-weight="bold" text-anchor="end" fill="#333" transform="rotate(-45 52.8 488.2)">DYRK2</text>
<line x1="62.8" y1="484" x2="62.8" y2="485.8" stroke="#222" stroke-width="0.7" />
<text x="64" y="488.2" font-size="3.6" font-weight="bold" text-anchor="end" fill="#333" transform="rotate(-45 64 488.2)">CDK12</text>
<line x1="74" y1="484" x2="74" y2="485.8" stroke="#222" stroke-width="0.7" />
<text x="75.2" y="488.2" font-size="3.6" font-weight="bold" text-anchor="end" fill="#333" transform="rotate(-45 75.2 488.2)">CK1γ3</text>
<line x1="85.2" y1="484" x2="85.2" y2="485.8" stroke="#222" stroke-width="0.7" />
<text x="86.4" y="488.2" font-size="3.6" font-weight="bold" text-anchor="end" fill="#333" transform="rotate(-45 86.4 488.2)">CK1γ1</text>
<line x1="96.4" y1="484" x2="96.4" y2="485.8" stroke="#222" stroke-width="0.7" />
<text x="97.6" y="488.2" font-size="3.6" font-weight="bold" text-anchor="end" fill="#333" transform="rotate(-45 97.6 488.2)">JNK1</text>
<line x1="107.6" y1="484" x2="107.6" y2="485.8" stroke="#222" stroke-width="0.7" />
<text x="108.8" y="488.2" font-size="3.6" font-weight="bold" text-anchor="end" fill="#333" transform="rotate(-45 108.8 488.2)">CDK7</text>
<line x1="118.8" y1="484" x2="118.8" y2="485.8" stroke="#222" stroke-width="0.7" />
<text x="120" y="488.2" font-size="3.6" font-weight="bold" text-anchor="end" fill="#333" transform="rotate(-45 120 488.2)">CDK5</text>
<line x1="130" y1="484" x2="130" y2="485.8" stroke="#222" stroke-width="0.7" />
<text x="131.2" y="488.2" font-size="3.6" font-weight="bold" text-anchor="end" fill="#333" transform="rotate(-45 131.2 488.2)">CDK4</text>
<line x1="141.2" y1="484" x2="141.2" y2="485.8" stroke="#222" stroke-width="0.7" />
<text x="142.4" y="488.2" font-size="3.6" font-weight="bold" text-anchor="end" fill="#333" transform="rotate(-45 142.4 488.2)">CDK6</text>
<line x1="152.4" y1="484" x2="152.4" y2="485.8" stroke="#222" stroke-width="0.7" />
<text x="153.6" y="488.2" font-size="3.6" font-weight="bold" text-anchor="end" fill="#333" transform="rotate(-45 153.6 488.2)">GSK3B</text>
<line x1="163.6" y1="484" x2="163.6" y2="485.8" stroke="#222" stroke-width="0.7" />
<text x="164.8" y="488.2" font-size="3.6" font-weight="bold" text-anchor="end" fill="#333" transform="rotate(-45 164.8 488.2)">GSK3A</text>
<line x1="174.8" y1="484" x2="174.8" y2="485.8" stroke="#222" stroke-width="0.7" />
<text x="176" y="488.2" font-size="3.6" font-weight="bold" text-anchor="end" fill="#333" transform="rotate(-45 176 488.2)">CDK1</text>
<line x1="186" y1="484" x2="186" y2="485.8" stroke="#222" stroke-width="0.7" />
<text x="187.2" y="488.2" font-size="3.6" font-weight="bold" text-anchor="end" fill="#333" transform="rotate(-45 187.2 488.2)">CDK2</text>
<line x1="197.2" y1="484" x2="197.2" y2="485.8" stroke="#222" stroke-width="0.7" />
<text x="198.4" y="488.2" font-size="3.6" font-weight="bold" text-anchor="end" fill="#333" transform="rotate(-45 198.4 488.2)">CDK3</text>
<text x="122.5" y="505.2" font-size="5.9" text-anchor="middle" font-weight="bold" fill="#222" >Enzyme</text>
<text x="11.1" y="436" font-size="5.9" font-weight="bold" text-anchor="middle" fill="#222" transform="rotate(-90 13.2 436)">Fold change over</text>
<text x="17.8" y="436" font-size="5.9" font-weight="bold" text-anchor="middle" fill="#222" transform="rotate(-90 19.9 436)">CDK9 high [ATP] IC<tspan font-size="4" dy="1.2">50</tspan></text>
<line x1="206.2" y1="409.7" x2="206.2" y2="428.3" stroke="#111" stroke-width="0.8" />
<path d="M204.79999999999998,410.9 L206.2,408.5 L207.6,410.9 Z" fill="#111"/>
<path d="M204.79999999999998,427.1 L206.2,429.5 L207.6,427.1 Z" fill="#111"/>
<line x1="206.2" y1="434.8" x2="206.2" y2="455.4" stroke="#111" stroke-width="0.8" />
<path d="M204.79999999999998,436 L206.2,433.6 L207.6,436 Z" fill="#111"/>
<path d="M204.79999999999998,454.2 L206.2,456.6 L207.6,454.2 Z" fill="#111"/>
<line x1="206.2" y1="461.6" x2="206.2" y2="480" stroke="#111" stroke-width="0.8" />
<path d="M204.79999999999998,462.8 L206.2,460.4 L207.6,462.8 Z" fill="#111"/>
<path d="M204.79999999999998,478.8 L206.2,481.2 L207.6,478.8 Z" fill="#111"/>
<text x="215" y="400.4" font-size="5.3" text-anchor="middle" font-weight="bold" fill="#222" >Selectivity</text>
<line x1="201.6" y1="402.3" x2="228.6" y2="402.3" stroke="#333" stroke-width="0.5" />
<text x="208.8" y="421.4" font-size="5.3" text-anchor="start" font-weight="bold" fill="#222" >&gt;100x</text>
<text x="210" y="447.3" font-size="5.2" text-anchor="start" font-weight="bold" fill="#222" >10–100x</text>
<text x="208.8" y="472.7" font-size="5.5" text-anchor="start" font-weight="bold" fill="#222" >&lt;10x</text>
<rect x="296.6" y="359.4" width="222" height="29.2" fill="#d6d6d6"/>
<line x1="296.6" y1="359.4" x2="520" y2="359.4" stroke="#111" stroke-width="1.8" />
<line x1="296.6" y1="389" x2="520" y2="389" stroke="#111" stroke-width="1.8" />
<line x1="296.6" y1="489" x2="520" y2="489" stroke="#111" stroke-width="1.8" />
<text x="334.4" y="371.4" font-size="8.4" font-weight="bold" text-anchor="middle" fill="#111" textLength="35.5" lengthAdjust="spacingAndGlyphs">Phospho</text>
<text x="333.9" y="383" font-size="8.4" font-weight="bold" text-anchor="middle" fill="#111" textLength="37.4" lengthAdjust="spacingAndGlyphs">endpoint</text>
<text x="408.8" y="371.4" font-size="8.4" font-weight="bold" text-anchor="middle" fill="#111" textLength="60.5" lengthAdjust="spacingAndGlyphs">Corresponding</text>
<text x="408.6" y="383" font-size="8.4" font-weight="bold" text-anchor="middle" fill="#111" textLength="20.8" lengthAdjust="spacingAndGlyphs">CDKs</text>
<text x="490.5" y="377.2" font-size="8.4" font-weight="bold" text-anchor="middle" fill="#111" textLength="52" lengthAdjust="spacingAndGlyphs">IC<tspan font-size="5.4" dy="1.6">50</tspan><tspan dy="-1.6"> (μmol/L)</tspan></text>
<text x="334" y="401" font-size="8.8" font-weight="normal" text-anchor="middle" fill="#222" stroke="#222" stroke-width="0.18" textLength="48.8" lengthAdjust="spacingAndGlyphs">pSer2-RNAP2</text>
<text x="408.5" y="401" font-size="8.8" font-weight="normal" text-anchor="middle" fill="#222" stroke="#222" stroke-width="0.18" textLength="18.3" lengthAdjust="spacingAndGlyphs">CDK9</text>
<text x="482.6" y="401" font-size="8.8" font-weight="normal" text-anchor="middle" fill="#222" stroke="#222" stroke-width="0.18" textLength="20.3" lengthAdjust="spacingAndGlyphs">0.014</text>
<text x="334" y="417.4" font-size="8.8" font-weight="normal" text-anchor="middle" fill="#222" stroke="#222" stroke-width="0.18" textLength="41.5" lengthAdjust="spacingAndGlyphs">pPP1α T320</text>
<text x="408.5" y="417.4" font-size="8.8" font-weight="normal" text-anchor="middle" fill="#222" stroke="#222" stroke-width="0.18" textLength="18.3" lengthAdjust="spacingAndGlyphs">CDK1</text>
<text x="482.6" y="417.4" font-size="8.8" font-weight="normal" text-anchor="middle" fill="#222" stroke="#222" stroke-width="0.18" textLength="14.5" lengthAdjust="spacingAndGlyphs">0.37</text>
<text x="334" y="433.8" font-size="8.8" font-weight="normal" text-anchor="middle" fill="#222" stroke="#222" stroke-width="0.18" textLength="48.8" lengthAdjust="spacingAndGlyphs">pSer5-RNAP2</text>
<text x="408.5" y="433.8" font-size="8.8" font-weight="normal" text-anchor="middle" fill="#222" stroke="#222" stroke-width="0.18" textLength="18.3" lengthAdjust="spacingAndGlyphs">CDK7</text>
<text x="482.6" y="433.8" font-size="8.8" font-weight="normal" text-anchor="middle" fill="#222" stroke="#222" stroke-width="0.18" textLength="10.5" lengthAdjust="spacingAndGlyphs">1.1</text>
<text x="334" y="450.3" font-size="8.8" font-weight="normal" text-anchor="middle" fill="#222" stroke="#222" stroke-width="0.18" textLength="34.5" lengthAdjust="spacingAndGlyphs">pRb S780</text>
<text x="408.5" y="450.3" font-size="8.8" font-weight="normal" text-anchor="middle" fill="#222" stroke="#222" stroke-width="0.18" textLength="27.5" lengthAdjust="spacingAndGlyphs">CDK4/6</text>
<text x="482.6" y="450.3" font-size="8.8" font-weight="normal" text-anchor="middle" fill="#222" stroke="#222" stroke-width="0.18" textLength="10.5" lengthAdjust="spacingAndGlyphs">1.1</text>
<text x="334" y="467.6" font-size="8.8" font-weight="normal" text-anchor="middle" fill="#222" stroke="#222" stroke-width="0.18" textLength="50.5" lengthAdjust="spacingAndGlyphs">pRb S807/811</text>
<text x="408.5" y="467.6" font-size="8.8" font-weight="normal" text-anchor="middle" fill="#222" stroke="#222" stroke-width="0.18" textLength="27.5" lengthAdjust="spacingAndGlyphs">CDK4/6</text>
<text x="482.6" y="467.6" font-size="8.8" font-weight="normal" text-anchor="middle" fill="#222" stroke="#222" stroke-width="0.18" textLength="13.5" lengthAdjust="spacingAndGlyphs">&gt;10</text>
<text x="334" y="483.7" font-size="8.8" font-weight="normal" text-anchor="middle" fill="#222" stroke="#222" stroke-width="0.18" textLength="34" lengthAdjust="spacingAndGlyphs">pRb T821</text>
<text x="408.5" y="483.7" font-size="8.8" font-weight="normal" text-anchor="middle" fill="#222" stroke="#222" stroke-width="0.18" textLength="18.3" lengthAdjust="spacingAndGlyphs">CDK2</text>
<text x="482.6" y="483.7" font-size="8.8" font-weight="normal" text-anchor="middle" fill="#222" stroke="#222" stroke-width="0.18" textLength="13.5" lengthAdjust="spacingAndGlyphs">&gt;10</text>
<line x1="33.3" y1="606.82" x2="94" y2="606.82" stroke="#222" stroke-width="0.8" stroke-dasharray="1 1"/>
<line x1="75.2" y1="606.82" x2="75.2" y2="648.8" stroke="#222" stroke-width="0.8" stroke-dasharray="1 1"/>
<line x1="94" y1="606.82" x2="94" y2="648.8" stroke="#222" stroke-width="0.8" stroke-dasharray="1 1"/>
<path d="M41.32,648.8 L49.34,648.8 L65.38,631.17 L81.42,589.2 L105.48,574.92 L129.54,567.37 L154.9,584.17" fill="none" stroke="#d2202c" stroke-width="1.5" stroke-linejoin="round"/>
<path d="M158.6,586.62 L187.84,605.99" fill="none" stroke="#d2202c" stroke-width="1.5"/>
<circle cx="41.32" cy="648.8" r="1.65" fill="#d2202c"/>
<circle cx="49.34" cy="648.8" r="1.65" fill="#d2202c"/>
<circle cx="65.38" cy="631.17" r="1.65" fill="#d2202c"/>
<circle cx="81.42" cy="589.2" r="1.65" fill="#d2202c"/>
<circle cx="105.48" cy="574.92" r="1.65" fill="#d2202c"/>
<circle cx="129.54" cy="567.37" r="1.65" fill="#d2202c"/>
<circle cx="187.84" cy="605.99" r="1.65" fill="#d2202c"/>
<path d="M41.32,560.65 L49.34,558.13 L65.38,560.65 L81.42,579.96 L105.48,631.17 L129.54,640.4 L154.9,643.33" fill="none" stroke="#2d4897" stroke-width="1.5" stroke-linejoin="round"/>
<path d="M158.6,643.75 L187.84,647.12" fill="none" stroke="#2d4897" stroke-width="1.5"/>
<circle cx="41.32" cy="560.65" r="1.65" fill="#2d4897"/>
<circle cx="49.34" cy="558.13" r="1.65" fill="#2d4897"/>
<circle cx="65.38" cy="560.65" r="1.65" fill="#2d4897"/>
<circle cx="81.42" cy="579.96" r="1.65" fill="#2d4897"/>
<circle cx="105.48" cy="631.17" r="1.65" fill="#2d4897"/>
<circle cx="129.54" cy="640.4" r="1.65" fill="#2d4897"/>
<circle cx="187.84" cy="647.12" r="1.65" fill="#2d4897"/>
<line x1="33.3" y1="543.56" x2="33.3" y2="649.2" stroke="#222" stroke-width="0.9" />
<line x1="32.9" y1="648.8" x2="153.6" y2="648.8" stroke="#222" stroke-width="0.9" />
<line x1="159" y1="648.8" x2="190.9" y2="648.8" stroke="#222" stroke-width="0.9" />
<line x1="153.6" y1="647.2" x2="153.6" y2="650.4" stroke="#222" stroke-width="0.8" />
<line x1="159" y1="647.2" x2="159" y2="650.4" stroke="#222" stroke-width="0.8" />
<line x1="30.9" y1="648.8" x2="33.3" y2="648.8" stroke="#222" stroke-width="0.8" />
<text x="30.8" y="650.9" font-size="5.9" text-anchor="end" font-weight="bold" fill="#222" >0</text>
<line x1="30.9" y1="627.81" x2="33.3" y2="627.81" stroke="#222" stroke-width="0.8" />
<text x="30.8" y="629.91" font-size="5.9" text-anchor="end" font-weight="bold" fill="#222" >25</text>
<line x1="30.9" y1="606.82" x2="33.3" y2="606.82" stroke="#222" stroke-width="0.8" />
<text x="30.8" y="608.92" font-size="5.9" text-anchor="end" font-weight="bold" fill="#222" >50</text>
<line x1="30.9" y1="585.84" x2="33.3" y2="585.84" stroke="#222" stroke-width="0.8" />
<text x="30.8" y="587.94" font-size="5.9" text-anchor="end" font-weight="bold" fill="#222" >75</text>
<line x1="30.9" y1="564.85" x2="33.3" y2="564.85" stroke="#222" stroke-width="0.8" />
<text x="30.8" y="566.95" font-size="5.9" text-anchor="end" font-weight="bold" fill="#222" >100</text>
<line x1="30.9" y1="543.86" x2="33.3" y2="543.86" stroke="#222" stroke-width="0.8" />
<text x="30.8" y="545.96" font-size="5.9" text-anchor="end" font-weight="bold" fill="#222" >125</text>
<line x1="33.3" y1="648.8" x2="33.3" y2="650.6" stroke="#222" stroke-width="0.8" />
<text x="33.3" y="658.1" font-size="6.1" text-anchor="middle" font-weight="bold" fill="#222" >0</text>
<line x1="73.4" y1="648.8" x2="73.4" y2="650.6" stroke="#222" stroke-width="0.8" />
<text x="73.4" y="658.1" font-size="6.1" text-anchor="middle" font-weight="bold" fill="#222" >5</text>
<line x1="113.5" y1="648.8" x2="113.5" y2="650.6" stroke="#222" stroke-width="0.8" />
<text x="113.5" y="658.1" font-size="6.1" text-anchor="middle" font-weight="bold" fill="#222" >10</text>
<line x1="153.6" y1="648.8" x2="153.6" y2="650.6" stroke="#222" stroke-width="0.8" />
<text x="153.6" y="658.1" font-size="6.1" text-anchor="middle" font-weight="bold" fill="#222" >15</text>
<line x1="175.2" y1="648.8" x2="175.2" y2="650.6" stroke="#222" stroke-width="0.8" />
<text x="175.2" y="658.1" font-size="6.1" text-anchor="middle" font-weight="bold" fill="#222" >20</text>
<line x1="190.9" y1="648.8" x2="190.9" y2="650.6" stroke="#222" stroke-width="0.8" />
<text x="190.9" y="658.1" font-size="6.1" text-anchor="middle" font-weight="bold" fill="#222" >25</text>
<text x="111.7" y="670.3" font-size="7.9" text-anchor="middle" font-weight="bold" fill="#222" >Time (h)</text>
<text x="11.6" y="593.4" font-size="7.5" font-weight="bold" text-anchor="middle" fill="#222" transform="rotate(-90 14.2 593.4)">% Activity</text>
<line x1="121.2" y1="542.9" x2="130.8" y2="542.9" stroke="#d2202c" stroke-width="1.2" />
<circle cx="126" cy="542.9" r="1.4" fill="#d2202c"/>
<line x1="121.2" y1="551.9" x2="130.8" y2="551.9" stroke="#2d4897" stroke-width="1.2" />
<circle cx="126" cy="551.9" r="1.4" fill="#2d4897"/>
<text x="135.2" y="545.1" font-size="6.1" text-anchor="start" font-weight="bold" fill="#222" >Caspase activation</text>
<text x="135.2" y="554.1" font-size="6.1" text-anchor="start" font-weight="bold" fill="#222" >Viability</text>
<line x1="320" y1="639.05" x2="320" y2="638.38" stroke="#222" stroke-width="0.7" />
<line x1="318.4" y1="638.38" x2="321.6" y2="638.38" stroke="#222" stroke-width="0.8" />
<rect x="316.7" y="639.05" width="6.6" height="10.15" fill="#e6222c" stroke="#2a1a1a" stroke-width="0.45"/>
<line x1="329.7" y1="644.97" x2="329.7" y2="642.27" stroke="#222" stroke-width="0.7" />
<line x1="328.1" y1="642.27" x2="331.3" y2="642.27" stroke="#222" stroke-width="0.8" />
<rect x="326.4" y="644.97" width="6.6" height="4.23" fill="#3a4f9e" stroke="#2a1a1a" stroke-width="0.45"/>
<line x1="344.9" y1="634.82" x2="344.9" y2="632.8" stroke="#222" stroke-width="0.7" />
<line x1="343.3" y1="632.8" x2="346.5" y2="632.8" stroke="#222" stroke-width="0.8" />
<rect x="341.6" y="634.82" width="6.6" height="14.38" fill="#e6222c" stroke="#2a1a1a" stroke-width="0.45"/>
<line x1="354.6" y1="633.13" x2="354.6" y2="625.69" stroke="#222" stroke-width="0.7" />
<line x1="353" y1="625.69" x2="356.2" y2="625.69" stroke="#222" stroke-width="0.8" />
<rect x="351.3" y="633.13" width="6.6" height="16.07" fill="#3a4f9e" stroke="#2a1a1a" stroke-width="0.45"/>
<line x1="369.8" y1="613.26" x2="369.8" y2="612.67" stroke="#222" stroke-width="0.7" />
<line x1="368.2" y1="612.67" x2="371.4" y2="612.67" stroke="#222" stroke-width="0.8" />
<rect x="366.5" y="613.26" width="6.6" height="35.94" fill="#e6222c" stroke="#2a1a1a" stroke-width="0.45"/>
<line x1="379.5" y1="612.84" x2="379.5" y2="609.29" stroke="#222" stroke-width="0.7" />
<line x1="377.9" y1="609.29" x2="381.1" y2="609.29" stroke="#222" stroke-width="0.8" />
<rect x="376.2" y="612.84" width="6.6" height="36.36" fill="#3a4f9e" stroke="#2a1a1a" stroke-width="0.45"/>
<line x1="394.7" y1="573.94" x2="394.7" y2="571.15" stroke="#222" stroke-width="0.7" />
<line x1="393.1" y1="571.15" x2="396.3" y2="571.15" stroke="#222" stroke-width="0.8" />
<rect x="391.4" y="573.94" width="6.6" height="75.26" fill="#e6222c" stroke="#2a1a1a" stroke-width="0.45"/>
<line x1="404.4" y1="575.63" x2="404.4" y2="574.96" stroke="#222" stroke-width="0.7" />
<line x1="402.8" y1="574.96" x2="406" y2="574.96" stroke="#222" stroke-width="0.8" />
<rect x="401.1" y="575.63" width="6.6" height="73.57" fill="#3a4f9e" stroke="#2a1a1a" stroke-width="0.45"/>
<line x1="419.6" y1="579.86" x2="419.6" y2="575.29" stroke="#222" stroke-width="0.7" />
<line x1="418" y1="575.29" x2="421.2" y2="575.29" stroke="#222" stroke-width="0.8" />
<rect x="416.3" y="579.86" width="6.6" height="69.34" fill="#e6222c" stroke="#2a1a1a" stroke-width="0.45"/>
<rect x="426" y="568.02" width="6.6" height="81.18" fill="#3a4f9e" stroke="#2a1a1a" stroke-width="0.45"/>
<line x1="444.5" y1="564.64" x2="444.5" y2="555.51" stroke="#222" stroke-width="0.7" />
<line x1="442.9" y1="555.51" x2="446.1" y2="555.51" stroke="#222" stroke-width="0.8" />
<rect x="441.2" y="564.64" width="6.6" height="84.56" fill="#e6222c" stroke="#2a1a1a" stroke-width="0.45"/>
<line x1="454.2" y1="570.56" x2="454.2" y2="569.88" stroke="#222" stroke-width="0.7" />
<line x1="452.6" y1="569.88" x2="455.8" y2="569.88" stroke="#222" stroke-width="0.8" />
<rect x="450.9" y="570.56" width="6.6" height="78.64" fill="#3a4f9e" stroke="#2a1a1a" stroke-width="0.45"/>
<line x1="307.3" y1="543.2" x2="307.3" y2="649.6" stroke="#222" stroke-width="0.9" />
<line x1="306.9" y1="649.2" x2="467.2" y2="649.2" stroke="#222" stroke-width="0.9" />
<line x1="304.9" y1="649.2" x2="307.3" y2="649.2" stroke="#222" stroke-width="0.8" />
<text x="304.8" y="651.3" font-size="6.1" text-anchor="end" font-weight="bold" fill="#222" >0</text>
<line x1="304.9" y1="628.06" x2="307.3" y2="628.06" stroke="#222" stroke-width="0.8" />
<text x="304.8" y="630.16" font-size="6.1" text-anchor="end" font-weight="bold" fill="#222" >25</text>
<line x1="304.9" y1="606.92" x2="307.3" y2="606.92" stroke="#222" stroke-width="0.8" />
<text x="304.8" y="609.02" font-size="6.1" text-anchor="end" font-weight="bold" fill="#222" >50</text>
<line x1="304.9" y1="585.78" x2="307.3" y2="585.78" stroke="#222" stroke-width="0.8" />
<text x="304.8" y="587.88" font-size="6.1" text-anchor="end" font-weight="bold" fill="#222" >75</text>
<line x1="304.9" y1="564.64" x2="307.3" y2="564.64" stroke="#222" stroke-width="0.8" />
<text x="304.8" y="566.74" font-size="6.1" text-anchor="end" font-weight="bold" fill="#222" >100</text>
<line x1="304.9" y1="543.5" x2="307.3" y2="543.5" stroke="#222" stroke-width="0.8" />
<text x="304.8" y="545.6" font-size="6.1" text-anchor="end" font-weight="bold" fill="#222" >125</text>
<line x1="324.6" y1="649.2" x2="324.6" y2="651" stroke="#222" stroke-width="0.8" />
<text x="324.6" y="658.2" font-size="6.4" text-anchor="middle" font-weight="bold" fill="#222" >1</text>
<line x1="349.5" y1="649.2" x2="349.5" y2="651" stroke="#222" stroke-width="0.8" />
<text x="349.5" y="658.2" font-size="6.4" text-anchor="middle" font-weight="bold" fill="#222" >2</text>
<line x1="374.4" y1="649.2" x2="374.4" y2="651" stroke="#222" stroke-width="0.8" />
<text x="374.4" y="658.2" font-size="6.4" text-anchor="middle" font-weight="bold" fill="#222" >4</text>
<line x1="399.3" y1="649.2" x2="399.3" y2="651" stroke="#222" stroke-width="0.8" />
<text x="399.3" y="658.2" font-size="6.4" text-anchor="middle" font-weight="bold" fill="#222" >6</text>
<line x1="424.2" y1="649.2" x2="424.2" y2="651" stroke="#222" stroke-width="0.8" />
<text x="424.2" y="658.2" font-size="6.4" text-anchor="middle" font-weight="bold" fill="#222" >8</text>
<line x1="449.1" y1="649.2" x2="449.1" y2="651" stroke="#222" stroke-width="0.8" />
<text x="449.1" y="658.2" font-size="6.4" text-anchor="middle" font-weight="bold" fill="#222" >No</text>
<text x="449.1" y="666" font-size="6.4" text-anchor="middle" font-weight="bold" fill="#222" >wash</text>
<text x="387.6" y="671" font-size="7.55" text-anchor="middle" font-weight="bold" fill="#222" >Time of washout (h)</text>
<text x="284.2" y="592.6" font-size="7.6" font-weight="bold" text-anchor="middle" fill="#222" transform="rotate(-90 286.8 592.6)">% Activity</text>
<rect x="315.2" y="544.2" width="8.4" height="2.8" fill="#e6222c" stroke="#222" stroke-width="0.5"/>
<rect x="315.2" y="553.0" width="8.4" height="2.8" fill="#3a4f9e" stroke="#222" stroke-width="0.5"/>
<text x="328.8" y="547.6" font-size="6.05" text-anchor="start" font-weight="bold" fill="#222" >Caspase activation</text>
<text x="328.8" y="556.3" font-size="6.05" text-anchor="start" font-weight="bold" fill="#222" >Loss of viability</text>
</svg>
</body></html>
